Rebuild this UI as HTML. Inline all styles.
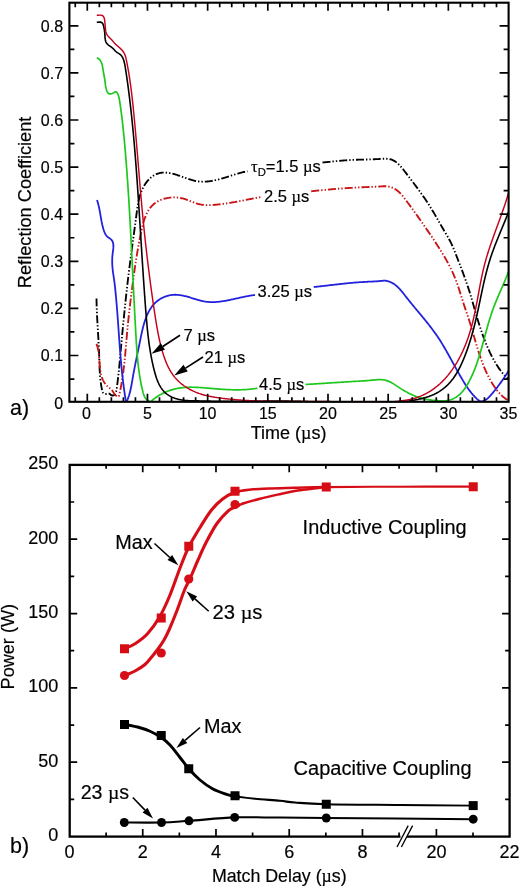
<!DOCTYPE html><html><head><meta charset="utf-8"><title>Figure</title><style>html,body{margin:0;padding:0;background:#fff}body{width:520px;height:888px;overflow:hidden}svg text{stroke:#000;stroke-width:0.18px}</style></head><body><svg width="520" height="888" viewBox="0 0 520 888" style="display:block">
<defs><filter id="bl" x="-2%" y="-2%" width="104%" height="104%"><feGaussianBlur stdDeviation="0.55"/></filter>
<clipPath id="c1"><rect x="69.4" y="2.7" width="439.8" height="399.6"/></clipPath></defs>
<rect width="520" height="888" fill="#fff"/>
<g filter="url(#bl)">
<g font-family="'Liberation Sans', Arial, sans-serif" fill="#000">
<g clip-path="url(#c1)" fill="none" stroke-linejoin="round">
<path d="M96.50 298.40L96.51 299.30L96.53 300.19L96.54 301.09L96.56 301.99L96.58 302.88L96.60 303.78L96.62 304.68L96.65 305.58L96.68 306.48L96.71 307.38L96.74 308.28L96.77 309.18L96.81 310.08L96.84 310.98L96.88 311.88L96.92 312.78L96.96 313.68L97.00 314.59L97.05 315.49L97.09 316.39L97.14 317.29L97.18 318.20L97.23 319.10L97.28 320.00L97.33 320.91L97.38 321.81L97.43 322.71L97.48 323.62L97.53 324.52L97.58 325.42L97.64 326.33L97.69 327.23L97.74 328.14L97.80 329.04L97.85 329.94L97.91 330.85L97.96 331.75L98.01 332.66L98.07 333.56L98.12 334.46L98.17 335.37L98.23 336.27L98.28 337.17L98.33 338.08L98.38 338.98L98.44 339.88L98.49 340.79L98.54 341.69L98.59 342.59L98.63 343.49L98.68 344.39L98.73 345.30L98.77 346.20L98.82 347.10L98.86 348.00L98.90 348.90L98.94 349.80L98.98 350.70L99.02 351.60L99.06 352.50L99.09 353.39L99.13 354.29L99.16 355.19L99.19 356.09L99.22 356.98L99.24 357.88L99.27 358.78L99.30 359.67L99.32 360.57L99.35 361.46L99.38 362.36L99.41 363.26L99.44 364.15L99.47 365.05L99.50 365.94L99.53 366.84L99.57 367.74L99.61 368.63L99.65 369.53L99.70 370.43L99.74 371.32L99.80 372.22L99.85 373.12L99.92 374.02L99.98 374.92L100.05 375.82L100.13 376.73L100.21 377.63L100.30 378.53L100.39 379.44L100.49 380.34L100.60 381.25L100.72 382.16L100.84 383.07L100.97 383.98L101.11 384.89L101.25 385.80L101.41 386.71L101.57 387.63L101.75 388.55L101.93 389.46L102.12 390.38L102.35 391.28L102.65 392.10L103.07 392.82L103.63 393.39L104.38 393.76L105.30 393.94L106.28 393.96L107.25 393.86L108.10 393.70L108.83 393.60L109.47 393.71L110.05 394.12L110.64 394.67L111.27 395.18L112.00 395.48L112.80 395.52L113.59 395.33L114.28 394.97L114.85 394.47L115.31 393.84L115.68 393.11L115.97 392.29L116.20 391.41L116.39 390.48L116.55 389.52L116.69 388.55L116.83 387.59L116.96 386.63L117.09 385.68L117.22 384.73L117.34 383.78L117.47 382.84L117.59 381.90L117.70 380.97L117.82 380.04L117.93 379.11L118.04 378.19L118.14 377.27L118.25 376.36L118.35 375.44L118.45 374.54L118.55 373.63L118.65 372.72L118.74 371.82L118.84 370.92L118.93 370.02L119.02 369.13L119.11 368.23L119.19 367.34L119.28 366.45L119.37 365.56L119.45 364.67L119.53 363.79L119.62 362.90L119.70 362.01L119.78 361.13L119.86 360.24L119.94 359.36L120.02 358.48L120.10 357.59L120.18 356.71L120.26 355.82L120.34 354.94L120.42 354.05L120.50 353.16L120.58 352.28L120.66 351.39L120.74 350.50L120.82 349.61L120.90 348.72L120.98 347.83L121.06 346.94L121.14 346.05L121.23 345.16L121.31 344.27L121.39 343.37L121.47 342.48L121.55 341.59L121.64 340.69L121.72 339.80L121.80 338.90L121.89 338.01L121.97 337.11L122.05 336.22L122.14 335.32L122.22 334.42L122.31 333.53L122.39 332.63L122.48 331.73L122.56 330.83L122.65 329.93L122.73 329.03L122.82 328.13L122.91 327.23L122.99 326.33L123.08 325.43L123.17 324.53L123.26 323.63L123.34 322.73L123.43 321.83L123.52 320.93L123.61 320.03L123.70 319.13L123.79 318.23L123.88 317.33L123.97 316.42L124.06 315.52L124.15 314.62L124.24 313.72L124.33 312.82L124.42 311.91L124.51 311.01L124.61 310.11L124.70 309.21L124.79 308.30L124.88 307.40L124.98 306.50L125.07 305.60L125.17 304.69L125.26 303.79L125.36 302.89L125.45 301.99L125.55 301.09L125.64 300.19L125.74 299.28L125.84 298.38L125.94 297.48L126.03 296.58L126.13 295.68L126.23 294.78L126.33 293.88L126.43 292.98L126.53 292.08L126.63 291.18L126.73 290.28L126.83 289.38L126.93 288.48L127.04 287.58L127.14 286.68L127.24 285.78L127.34 284.89L127.45 283.99L127.55 283.09L127.66 282.19L127.76 281.30L127.87 280.40L127.97 279.51L128.08 278.61L128.19 277.72L128.30 276.82L128.40 275.93L128.51 275.04L128.62 274.14L128.73 273.25L128.84 272.36L128.95 271.47L129.06 270.58L129.17 269.69L129.28 268.80L129.40 267.91L129.51 267.02L129.62 266.13L129.73 265.24L129.85 264.35L129.96 263.46L130.08 262.57L130.19 261.68L130.31 260.80L130.42 259.91L130.54 259.02L130.65 258.13L130.77 257.24L130.89 256.36L131.00 255.47L131.12 254.58L131.24 253.69L131.36 252.81L131.47 251.92L131.59 251.03L131.71 250.14L131.83 249.26L131.95 248.37L132.07 247.48L132.19 246.59L132.30 245.70L132.42 244.81L132.54 243.93L132.66 243.04L132.78 242.15L132.90 241.26L133.02 240.37L133.14 239.48L133.26 238.59L133.38 237.69L133.50 236.80L133.62 235.91L133.74 235.02L133.86 234.12L133.99 233.23L134.11 232.34L134.23 231.44L134.35 230.55L134.47 229.65L134.59 228.75L134.71 227.86L134.83 226.96L134.95 226.06L135.07 225.16L135.19 224.26L135.31 223.36L135.43 222.46L135.55 221.56L135.67 220.66L135.79 219.75L135.91 218.85L136.03 217.94L136.15 217.04L136.26 216.13L136.38 215.22L136.50 214.31L136.62 213.40L136.74 212.49L136.86 211.58L136.99 210.67L137.11 209.76L137.24 208.85L137.38 207.94L137.51 207.03L137.66 206.13L137.81 205.23L137.96 204.32L138.12 203.43L138.29 202.53L138.47 201.64L138.66 200.75L138.86 199.86L139.06 198.98L139.28 198.10L139.51 197.22L139.75 196.36L140.00 195.49L140.27 194.63L140.55 193.78L140.84 192.93L141.15 192.09L141.47 191.26L141.81 190.43L142.17 189.61L142.55 188.79L142.94 187.99L143.35 187.19L143.78 186.40L144.23 185.62L144.70 184.85L145.19 184.09L145.70 183.34L146.23 182.60L146.77 181.88L147.34 181.18L147.92 180.49L148.53 179.83L149.15 179.18L149.78 178.56L150.44 177.96L151.11 177.38L151.80 176.83L152.51 176.31L153.23 175.81L153.97 175.35L154.72 174.92L155.49 174.52L156.28 174.16L157.08 173.83L157.90 173.54L158.73 173.29L159.57 173.07L160.43 172.90L161.31 172.77L162.19 172.68L163.09 172.63L163.99 172.60L164.91 172.62L165.83 172.66L166.75 172.73L167.68 172.83L168.62 172.96L169.56 173.11L170.49 173.28L171.43 173.48L172.37 173.69L173.30 173.92L174.23 174.16L175.16 174.42L176.08 174.69L176.99 174.97L177.89 175.26L178.78 175.55L179.67 175.85L180.54 176.15L181.41 176.46L182.28 176.76L183.13 177.07L183.98 177.38L184.83 177.68L185.67 177.99L186.51 178.29L187.34 178.58L188.18 178.87L189.01 179.15L189.84 179.42L190.67 179.68L191.51 179.93L192.34 180.17L193.18 180.40L194.01 180.61L194.85 180.81L195.70 180.99L196.55 181.15L197.41 181.30L198.27 181.42L199.14 181.53L200.01 181.61L200.89 181.67L201.78 181.70L202.68 181.72L203.58 181.72L204.49 181.69L205.40 181.65L206.31 181.59L207.22 181.51L208.14 181.42L209.06 181.31L209.97 181.18L210.88 181.05L211.80 180.90L212.70 180.74L213.61 180.56L214.51 180.38L215.40 180.19L216.29 179.99L217.17 179.78L218.06 179.56L218.93 179.34L219.81 179.10L220.67 178.87L221.54 178.62L222.41 178.37L223.27 178.12L224.13 177.86L224.98 177.60L225.84 177.34L226.69 177.07L227.54 176.80L228.40 176.53L229.25 176.26L230.10 175.98L230.95 175.71L231.80 175.44L232.65 175.17L233.51 174.90L234.36 174.63L235.22 174.37L236.08 174.11L236.94 173.85L237.80 173.60L238.66 173.35L239.53 173.11L240.40 172.87L241.27 172.64L242.15 172.42L243.03 172.21L243.92 172.00L244.81 171.80L245.71 171.61L246.61 171.43L247.51 171.26" stroke="#000" stroke-width="1.85" stroke-dasharray="8 2 1.4 2 1.4 2"/>
<path d="M322.50 162.50L323.39 162.42L324.29 162.34L325.18 162.25L326.07 162.17L326.97 162.08L327.87 161.99L328.77 161.90L329.66 161.81L330.56 161.72L331.47 161.63L332.37 161.54L333.27 161.45L334.17 161.36L335.07 161.27L335.98 161.18L336.88 161.09L337.79 161.01L338.69 160.92L339.59 160.84L340.50 160.75L341.40 160.67L342.31 160.59L343.21 160.52L344.12 160.44L345.02 160.37L345.92 160.30L346.82 160.24L347.73 160.17L348.63 160.12L349.53 160.06L350.43 160.01L351.33 159.96L352.23 159.92L353.12 159.88L354.02 159.84L354.92 159.80L355.82 159.77L356.71 159.74L357.61 159.71L358.50 159.69L359.40 159.66L360.30 159.64L361.19 159.62L362.09 159.59L362.99 159.57L363.88 159.55L364.78 159.53L365.68 159.51L366.58 159.49L367.48 159.47L368.38 159.45L369.28 159.42L370.19 159.40L371.09 159.37L372.00 159.34L372.90 159.31L373.81 159.28L374.72 159.24L375.63 159.20L376.54 159.16L377.46 159.11L378.37 159.06L379.29 159.01L380.21 158.95L381.13 158.89L382.06 158.83L382.98 158.78L383.89 158.74L384.81 158.72L385.72 158.72L386.62 158.75L387.51 158.80L388.39 158.90L389.25 159.04L390.11 159.22L390.95 159.45L391.77 159.73L392.58 160.06L393.37 160.44L394.14 160.86L394.89 161.33L395.62 161.83L396.34 162.36L397.04 162.93L397.72 163.52L398.39 164.13L399.04 164.76L399.68 165.40L400.30 166.06L400.91 166.73L401.51 167.42L402.10 168.11L402.69 168.81L403.26 169.52L403.83 170.24L404.39 170.96L404.95 171.69L405.50 172.41L406.06 173.14L406.61 173.87L407.17 174.59L407.72 175.32L408.27 176.04L408.82 176.77L409.37 177.49L409.92 178.21L410.47 178.94L411.02 179.66L411.57 180.38L412.12 181.10L412.66 181.82L413.21 182.54L413.75 183.27L414.29 183.99L414.83 184.71L415.37 185.43L415.91 186.16L416.45 186.88L416.99 187.60L417.52 188.33L418.05 189.05L418.59 189.78L419.11 190.51L419.64 191.23L420.17 191.96L420.69 192.69L421.21 193.42L421.73 194.16L422.25 194.89L422.77 195.62L423.28 196.36L423.80 197.10L424.30 197.84L424.81 198.58L425.32 199.32L425.82 200.07L426.32 200.82L426.82 201.56L427.31 202.32L427.80 203.07L428.29 203.82L428.78 204.58L429.26 205.34L429.75 206.11L430.22 206.87L430.70 207.64L431.17 208.41L431.64 209.18L432.11 209.95L432.58 210.73L433.04 211.51L433.51 212.28L433.97 213.06L434.43 213.85L434.89 214.63L435.34 215.41L435.80 216.20L436.25 216.98L436.71 217.77L437.16 218.55L437.61 219.34L438.06 220.13L438.51 220.92L438.96 221.70L439.41 222.49L439.86 223.28L440.31 224.07L440.76 224.85L441.21 225.64L441.67 226.43L442.12 227.21L442.57 228.00L443.02 228.78L443.48 229.56L443.93 230.35L444.39 231.13L444.85 231.90L445.31 232.68L445.77 233.46L446.23 234.23L446.69 235.01L447.14 235.79L447.60 236.56L448.05 237.34L448.49 238.13L448.93 238.91L449.36 239.70L449.79 240.49L450.20 241.29L450.61 242.09L451.01 242.90L451.40 243.71L451.78 244.53L452.16 245.35L452.53 246.17L452.89 247.00L453.24 247.83L453.60 248.66L453.94 249.50L454.29 250.33L454.63 251.17L454.96 252.01L455.30 252.86L455.63 253.70L455.96 254.54L456.28 255.39L456.61 256.23L456.94 257.08L457.27 257.92L457.59 258.77L457.92 259.61L458.25 260.46L458.58 261.30L458.90 262.15L459.23 262.99L459.55 263.83L459.88 264.68L460.20 265.52L460.52 266.37L460.85 267.21L461.17 268.06L461.49 268.90L461.81 269.75L462.13 270.59L462.45 271.44L462.76 272.28L463.08 273.13L463.39 273.98L463.70 274.83L464.02 275.67L464.33 276.52L464.63 277.37L464.94 278.22L465.25 279.07L465.55 279.92L465.85 280.77L466.15 281.62L466.45 282.47L466.74 283.33L467.04 284.18L467.33 285.03L467.62 285.89L467.90 286.75L468.19 287.60L468.47 288.46L468.75 289.32L469.03 290.18L469.30 291.04L469.58 291.90L469.85 292.76L470.11 293.62L470.38 294.49L470.64 295.35L470.90 296.22L471.15 297.09L471.41 297.95L471.66 298.82L471.91 299.69L472.16 300.56L472.41 301.43L472.66 302.30L472.91 303.17L473.16 304.04L473.41 304.91L473.65 305.78L473.90 306.65L474.15 307.52L474.40 308.39L474.65 309.26L474.90 310.12L475.15 310.99L475.40 311.86L475.65 312.73L475.90 313.60L476.16 314.46L476.41 315.33L476.67 316.20L476.93 317.06L477.18 317.93L477.44 318.80L477.70 319.66L477.97 320.52L478.23 321.39L478.50 322.25L478.77 323.11L479.04 323.97L479.31 324.83L479.58 325.69L479.86 326.55L480.14 327.41L480.42 328.27L480.70 329.12L480.99 329.98L481.27 330.83L481.57 331.69L481.86 332.54L482.16 333.39L482.46 334.24L482.76 335.09L483.06 335.94L483.37 336.79L483.69 337.63L484.00 338.48L484.32 339.32L484.65 340.16L484.97 341.00L485.30 341.84L485.64 342.68L485.98 343.52L486.32 344.35L486.66 345.19L487.02 346.02L487.37 346.85L487.73 347.68L488.09 348.51L488.46 349.33L488.84 350.16L489.21 350.98L489.60 351.80L489.98 352.62L490.38 353.43L490.77 354.25L491.18 355.06L491.58 355.87L492.00 356.68L492.42 357.49L492.84 358.29L493.27 359.09L493.71 359.89L494.16 360.68L494.61 361.47L495.06 362.25L495.52 363.03L495.99 363.81L496.47 364.58L496.95 365.35L497.45 366.11L497.94 366.86L498.45 367.61L498.96 368.36L499.48 369.09L500.01 369.83L500.55 370.55L501.09 371.27L501.65 371.98L502.21 372.68L502.78 373.38L503.36 374.06L503.95 374.74L504.55 375.42L505.15 376.08L505.77 376.73L506.39 377.38L507.03 378.01L507.67 378.64L508.33 379.26" stroke="#000" stroke-width="1.85" stroke-dasharray="8 2 1.4 2 1.4 2"/>
<path d="M96.46 343.84L96.76 344.61L97.03 345.40L97.28 346.21L97.52 347.03L97.73 347.87L97.92 348.72L98.10 349.58L98.26 350.45L98.41 351.34L98.55 352.23L98.67 353.14L98.78 354.05L98.89 354.97L98.98 355.90L99.07 356.83L99.16 357.76L99.23 358.71L99.31 359.65L99.39 360.60L99.46 361.55L99.54 362.50L99.61 363.45L99.69 364.39L99.78 365.34L99.87 366.28L99.97 367.22L100.07 368.16L100.19 369.09L100.32 370.02L100.46 370.93L100.61 371.85L100.78 372.75L100.96 373.64L101.16 374.52L101.38 375.39L101.62 376.25L101.87 377.10L102.16 377.93L102.46 378.75L102.79 379.55L103.15 380.34L103.53 381.11L103.94 381.86L104.38 382.60L104.85 383.31L105.35 384.00L105.89 384.68L106.46 385.33L107.07 385.95L107.72 386.56L108.40 387.14L109.12 387.70L109.84 388.25L110.55 388.82L111.22 389.42L111.83 390.06L112.37 390.75L112.86 391.48L113.34 392.25L113.84 393.03L114.38 393.81L114.99 394.59L115.72 395.34L116.53 396.02L117.33 396.50L118.04 396.68L118.57 396.46L118.94 395.89L119.20 395.10L119.41 394.21L119.61 393.30L119.80 392.40L120.00 391.50L120.18 390.60L120.37 389.70L120.55 388.80L120.72 387.90L120.90 387.00L121.06 386.11L121.23 385.21L121.39 384.31L121.55 383.41L121.70 382.52L121.85 381.62L122.00 380.72L122.15 379.82L122.29 378.93L122.42 378.03L122.56 377.14L122.69 376.24L122.82 375.35L122.95 374.45L123.07 373.55L123.19 372.66L123.31 371.76L123.43 370.87L123.54 369.98L123.65 369.08L123.76 368.19L123.87 367.29L123.97 366.40L124.08 365.50L124.18 364.61L124.28 363.72L124.37 362.82L124.47 361.93L124.56 361.03L124.66 360.14L124.75 359.24L124.84 358.35L124.92 357.46L125.01 356.56L125.10 355.67L125.18 354.77L125.26 353.88L125.35 352.98L125.43 352.09L125.51 351.19L125.59 350.30L125.67 349.40L125.75 348.51L125.82 347.61L125.90 346.72L125.98 345.82L126.06 344.92L126.13 344.03L126.21 343.13L126.29 342.23L126.36 341.34L126.44 340.44L126.52 339.54L126.59 338.64L126.67 337.74L126.75 336.85L126.83 335.95L126.90 335.05L126.98 334.15L127.06 333.25L127.14 332.35L127.22 331.45L127.31 330.54L127.39 329.64L127.47 328.74L127.56 327.84L127.65 326.93L127.73 326.03L127.82 325.13L127.91 324.22L128.00 323.32L128.09 322.41L128.19 321.51L128.28 320.60L128.37 319.70L128.47 318.79L128.57 317.89L128.66 316.98L128.76 316.08L128.86 315.17L128.96 314.26L129.06 313.36L129.16 312.45L129.26 311.55L129.37 310.64L129.47 309.74L129.57 308.83L129.68 307.93L129.78 307.02L129.89 306.12L130.00 305.22L130.10 304.31L130.21 303.41L130.32 302.51L130.43 301.61L130.54 300.70L130.65 299.80L130.76 298.90L130.87 298.00L130.98 297.10L131.10 296.20L131.21 295.31L131.32 294.41L131.44 293.51L131.55 292.62L131.66 291.72L131.78 290.83L131.89 289.93L132.01 289.04L132.12 288.15L132.24 287.26L132.35 286.37L132.47 285.48L132.59 284.59L132.70 283.71L132.82 282.82L132.94 281.94L133.06 281.05L133.17 280.17L133.29 279.29L133.41 278.41L133.53 277.52L133.65 276.64L133.77 275.76L133.89 274.89L134.01 274.01L134.13 273.13L134.26 272.25L134.38 271.37L134.50 270.49L134.63 269.62L134.75 268.74L134.88 267.86L135.01 266.98L135.14 266.10L135.27 265.23L135.40 264.35L135.53 263.47L135.66 262.59L135.80 261.71L135.93 260.83L136.07 259.95L136.21 259.07L136.35 258.19L136.49 257.31L136.63 256.42L136.77 255.54L136.92 254.66L137.06 253.77L137.21 252.88L137.36 252.00L137.51 251.11L137.67 250.22L137.82 249.33L137.98 248.44L138.14 247.54L138.30 246.65L138.46 245.75L138.62 244.85L138.79 243.95L138.95 243.05L139.12 242.15L139.30 241.25L139.47 240.34L139.65 239.43L139.82 238.53L140.00 237.61L140.19 236.70L140.37 235.78L140.56 234.87L140.75 233.95L140.94 233.03L141.13 232.10L141.33 231.18L141.53 230.25L141.74 229.32L141.95 228.39L142.16 227.47L142.38 226.54L142.61 225.62L142.84 224.70L143.08 223.78L143.33 222.87L143.59 221.97L143.86 221.07L144.14 220.18L144.43 219.29L144.73 218.42L145.04 217.55L145.37 216.70L145.71 215.85L146.06 215.02L146.43 214.19L146.81 213.38L147.21 212.59L147.62 211.81L148.06 211.04L148.51 210.29L148.98 209.56L149.46 208.84L149.97 208.14L150.50 207.47L151.05 206.81L151.62 206.17L152.21 205.55L152.83 204.95L153.47 204.38L154.13 203.83L154.81 203.30L155.51 202.79L156.23 202.31L156.97 201.85L157.73 201.41L158.50 201.00L159.30 200.60L160.10 200.23L160.92 199.89L161.75 199.56L162.60 199.26L163.46 198.98L164.32 198.72L165.20 198.49L166.09 198.28L166.98 198.09L167.88 197.93L168.79 197.79L169.70 197.67L170.62 197.57L171.54 197.50L172.46 197.45L173.38 197.42L174.31 197.42L175.23 197.44L176.16 197.48L177.08 197.55L177.99 197.64L178.91 197.75L179.82 197.88L180.72 198.04L181.62 198.23L182.51 198.43L183.40 198.66L184.27 198.91L185.14 199.18L186.00 199.46L186.86 199.76L187.71 200.07L188.56 200.39L189.40 200.71L190.24 201.04L191.08 201.38L191.92 201.71L192.76 202.03L193.60 202.35L194.45 202.67L195.29 202.97L196.14 203.26L196.99 203.53L197.84 203.79L198.70 204.03L199.57 204.24L200.44 204.43L201.32 204.59L202.21 204.73L203.10 204.84L204.00 204.94L204.90 205.01L205.80 205.06L206.71 205.10L207.62 205.12L208.54 205.12L209.45 205.11L210.37 205.08L211.29 205.04L212.21 204.99L213.13 204.93L214.04 204.86L214.96 204.79L215.87 204.71L216.79 204.62L217.70 204.53L218.60 204.43L219.51 204.33L220.41 204.22L221.31 204.11L222.21 204.00L223.11 203.88L224.00 203.76L224.90 203.63L225.79 203.50L226.68 203.37L227.57 203.23L228.46 203.09L229.35 202.95L230.23 202.80L231.12 202.66L232.00 202.51L232.88 202.35L233.77 202.20L234.65 202.04L235.53 201.88L236.41 201.72L237.29 201.55L238.17 201.39L239.05 201.22L239.93 201.05L240.81 200.89L241.69 200.72L242.57 200.54L243.45 200.37L244.33 200.20L245.21 200.03L246.09 199.85L246.98 199.68L247.86 199.51L248.74 199.33L249.63 199.16L250.51 198.99L251.40 198.81L252.29 198.64L253.18 198.47L254.07 198.30L254.96 198.13L255.85 197.96L256.75 197.80L257.65 197.63L258.55 197.47L259.45 197.31L260.35 197.15L261.26 196.99" stroke="#c81414" stroke-width="1.85" stroke-dasharray="8 2 1.4 2 1.4 2"/>
<path d="M311.25 191.26L312.15 191.17L313.05 191.07L313.94 190.97L314.84 190.88L315.74 190.78L316.63 190.69L317.53 190.59L318.43 190.50L319.33 190.41L320.23 190.32L321.13 190.23L322.03 190.14L322.92 190.06L323.82 189.97L324.72 189.89L325.62 189.80L326.52 189.72L327.42 189.64L328.33 189.56L329.23 189.48L330.13 189.40L331.03 189.32L331.93 189.24L332.83 189.17L333.73 189.09L334.63 189.02L335.54 188.95L336.44 188.87L337.34 188.80L338.24 188.73L339.14 188.66L340.04 188.60L340.95 188.53L341.85 188.46L342.75 188.40L343.65 188.34L344.55 188.27L345.46 188.21L346.36 188.15L347.26 188.09L348.16 188.03L349.06 187.98L349.97 187.92L350.87 187.87L351.77 187.81L352.67 187.76L353.57 187.71L354.47 187.66L355.38 187.61L356.28 187.56L357.18 187.51L358.08 187.47L358.98 187.42L359.88 187.38L360.78 187.34L361.68 187.29L362.58 187.25L363.48 187.21L364.38 187.18L365.28 187.14L366.18 187.10L367.07 187.07L367.97 187.04L368.87 187.00L369.77 186.97L370.67 186.93L371.57 186.90L372.47 186.86L373.37 186.83L374.27 186.79L375.17 186.74L376.08 186.70L376.98 186.65L377.89 186.60L378.79 186.55L379.70 186.49L380.61 186.43L381.53 186.37L382.44 186.31L383.35 186.27L384.27 186.25L385.18 186.25L386.09 186.29L387.00 186.36L387.91 186.47L388.80 186.62L389.69 186.81L390.56 187.04L391.42 187.31L392.26 187.61L393.07 187.96L393.86 188.34L394.63 188.76L395.38 189.21L396.11 189.69L396.83 190.21L397.52 190.75L398.20 191.32L398.86 191.91L399.51 192.52L400.14 193.16L400.76 193.81L401.37 194.48L401.97 195.17L402.56 195.87L403.14 196.58L403.72 197.30L404.28 198.02L404.85 198.75L405.41 199.49L405.96 200.23L406.51 200.97L407.06 201.70L407.61 202.44L408.16 203.18L408.70 203.91L409.25 204.65L409.79 205.38L410.33 206.12L410.86 206.85L411.40 207.59L411.93 208.32L412.47 209.05L413.00 209.79L413.53 210.52L414.05 211.25L414.58 211.99L415.11 212.72L415.63 213.45L416.15 214.19L416.68 214.92L417.20 215.65L417.72 216.39L418.23 217.12L418.75 217.86L419.27 218.59L419.78 219.32L420.30 220.06L420.81 220.79L421.32 221.53L421.84 222.26L422.35 223.00L422.86 223.74L423.37 224.47L423.88 225.21L424.39 225.95L424.89 226.69L425.40 227.42L425.91 228.16L426.42 228.90L426.92 229.64L427.43 230.39L427.94 231.13L428.44 231.87L428.95 232.61L429.45 233.36L429.96 234.10L430.47 234.85L430.97 235.60L431.48 236.35L431.98 237.09L432.48 237.84L432.99 238.60L433.49 239.35L433.99 240.10L434.49 240.85L434.99 241.61L435.49 242.37L435.99 243.12L436.48 243.88L436.98 244.64L437.47 245.40L437.96 246.17L438.45 246.93L438.93 247.69L439.42 248.46L439.90 249.23L440.38 250.00L440.86 250.77L441.34 251.54L441.81 252.31L442.28 253.09L442.75 253.86L443.21 254.64L443.68 255.42L444.13 256.20L444.59 256.99L445.04 257.77L445.49 258.56L445.94 259.35L446.38 260.14L446.82 260.93L447.26 261.72L447.69 262.52L448.11 263.31L448.54 264.11L448.96 264.91L449.37 265.71L449.78 266.52L450.19 267.33L450.59 268.13L450.99 268.95L451.38 269.76L451.77 270.57L452.15 271.39L452.53 272.21L452.90 273.03L453.27 273.85L453.63 274.68L453.99 275.51L454.34 276.34L454.68 277.17L455.02 278.00L455.36 278.84L455.69 279.68L456.01 280.52L456.32 281.37L456.64 282.21L456.94 283.06L457.24 283.91L457.54 284.76L457.84 285.62L458.13 286.47L458.41 287.33L458.70 288.18L458.98 289.04L459.26 289.90L459.53 290.76L459.81 291.62L460.08 292.49L460.35 293.35L460.62 294.21L460.89 295.07L461.16 295.94L461.43 296.80L461.70 297.66L461.97 298.52L462.24 299.39L462.51 300.25L462.79 301.11L463.06 301.97L463.34 302.83L463.62 303.69L463.90 304.55L464.18 305.40L464.47 306.26L464.76 307.12L465.04 307.97L465.33 308.83L465.62 309.68L465.91 310.53L466.20 311.39L466.49 312.24L466.78 313.10L467.07 313.95L467.36 314.81L467.65 315.66L467.94 316.52L468.22 317.38L468.50 318.23L468.78 319.09L469.06 319.95L469.33 320.81L469.61 321.67L469.88 322.53L470.15 323.40L470.41 324.26L470.68 325.13L470.94 325.99L471.20 326.86L471.46 327.73L471.72 328.59L471.97 329.46L472.23 330.33L472.48 331.20L472.73 332.07L472.99 332.94L473.24 333.81L473.49 334.68L473.74 335.55L474.00 336.42L474.25 337.29L474.50 338.16L474.75 339.03L475.00 339.90L475.26 340.77L475.51 341.64L475.77 342.50L476.02 343.37L476.28 344.24L476.54 345.11L476.80 345.97L477.06 346.84L477.32 347.71L477.59 348.57L477.86 349.43L478.12 350.30L478.40 351.16L478.67 352.02L478.95 352.88L479.23 353.74L479.51 354.60L479.79 355.45L480.08 356.31L480.37 357.16L480.67 358.01L480.97 358.86L481.27 359.71L481.58 360.56L481.89 361.41L482.20 362.25L482.52 363.09L482.84 363.93L483.17 364.77L483.50 365.61L483.84 366.44L484.18 367.28L484.53 368.11L484.88 368.94L485.24 369.76L485.60 370.59L485.97 371.41L486.35 372.23L486.73 373.04L487.12 373.86L487.51 374.67L487.91 375.48L488.32 376.29L488.73 377.09L489.15 377.89L489.58 378.69L490.01 379.48L490.45 380.28L490.90 381.07L491.36 381.85L491.82 382.63L492.29 383.41L492.77 384.18L493.26 384.95L493.76 385.71L494.26 386.47L494.78 387.22L495.30 387.96L495.83 388.69L496.37 389.42L496.92 390.14L497.49 390.85L498.06 391.54L498.64 392.23L499.23 392.91L499.83 393.58L500.45 394.24L501.07 394.88L501.70 395.51L502.35 396.13L503.02 396.73L503.70 397.31L504.40 397.87L505.13 398.39L505.89 398.88L506.68 399.34L507.51 399.75L508.38 400.12" stroke="#c81414" stroke-width="1.85" stroke-dasharray="8 2 1.4 2 1.4 2"/>
<path d="M97.00 200.00L97.29 200.87L97.57 201.75L97.83 202.62L98.08 203.50L98.31 204.38L98.53 205.26L98.74 206.13L98.94 207.01L99.13 207.89L99.31 208.77L99.48 209.66L99.65 210.54L99.81 211.42L99.97 212.30L100.12 213.19L100.28 214.07L100.43 214.95L100.58 215.84L100.73 216.72L100.88 217.61L101.03 218.49L101.19 219.38L101.35 220.27L101.52 221.15L101.69 222.04L101.88 222.92L102.07 223.81L102.26 224.70L102.47 225.58L102.70 226.47L102.93 227.35L103.18 228.24L103.44 229.13L103.71 230.01L104.01 230.90L104.32 231.77L104.67 232.63L105.05 233.47L105.48 234.28L105.95 235.05L106.48 235.77L107.07 236.44L107.73 237.04L108.45 237.59L109.21 238.10L109.96 238.61L110.67 239.12L111.31 239.68L111.84 240.30L112.29 240.98L112.65 241.70L112.93 242.48L113.13 243.30L113.27 244.16L113.36 245.06L113.39 245.98L113.37 246.94L113.32 247.91L113.24 248.91L113.13 249.92L113.01 250.93L112.88 251.95L112.75 252.98L112.62 254.00L112.51 255.01L112.41 256.01L112.33 256.99L112.27 257.97L112.23 258.94L112.20 259.89L112.19 260.84L112.19 261.77L112.20 262.70L112.23 263.62L112.27 264.53L112.32 265.44L112.38 266.34L112.45 267.23L112.54 268.12L112.62 269.01L112.72 269.89L112.82 270.76L112.93 271.64L113.05 272.51L113.16 273.38L113.29 274.24L113.41 275.11L113.54 275.98L113.67 276.84L113.80 277.71L113.92 278.58L114.05 279.45L114.18 280.33L114.30 281.20L114.42 282.08L114.54 282.97L114.65 283.86L114.76 284.75L114.86 285.64L114.96 286.54L115.06 287.44L115.16 288.34L115.25 289.24L115.34 290.15L115.43 291.05L115.52 291.95L115.61 292.86L115.70 293.76L115.79 294.66L115.87 295.56L115.96 296.47L116.04 297.37L116.12 298.27L116.20 299.18L116.28 300.08L116.36 300.98L116.44 301.88L116.52 302.79L116.59 303.69L116.67 304.59L116.74 305.49L116.82 306.40L116.89 307.30L116.96 308.20L117.04 309.10L117.11 310.01L117.18 310.91L117.25 311.81L117.32 312.71L117.39 313.62L117.46 314.52L117.52 315.42L117.59 316.32L117.66 317.22L117.72 318.13L117.79 319.03L117.86 319.93L117.92 320.83L117.99 321.73L118.05 322.64L118.11 323.54L118.18 324.44L118.24 325.34L118.31 326.24L118.37 327.14L118.43 328.05L118.50 328.95L118.56 329.85L118.63 330.75L118.69 331.65L118.75 332.55L118.82 333.45L118.88 334.35L118.94 335.26L119.01 336.16L119.07 337.06L119.14 337.96L119.20 338.86L119.27 339.76L119.33 340.66L119.40 341.56L119.46 342.46L119.53 343.36L119.59 344.26L119.66 345.16L119.73 346.06L119.80 346.96L119.86 347.86L119.93 348.76L120.00 349.66L120.07 350.56L120.14 351.46L120.22 352.36L120.29 353.26L120.36 354.16L120.43 355.06L120.51 355.96L120.58 356.86L120.66 357.76L120.74 358.66L120.81 359.56L120.89 360.46L120.97 361.35L121.05 362.25L121.13 363.15L121.21 364.05L121.30 364.95L121.38 365.85L121.47 366.75L121.55 367.64L121.64 368.54L121.73 369.44L121.82 370.34L121.91 371.23L122.01 372.13L122.10 373.03L122.19 373.93L122.29 374.82L122.39 375.72L122.49 376.62L122.59 377.52L122.69 378.41L122.80 379.31L122.90 380.21L123.01 381.10L123.12 382.00L123.23 382.90L123.34 383.79L123.45 384.69L123.57 385.58L123.68 386.48L123.80 387.37L123.92 388.27L124.04 389.17L124.17 390.06L124.29 390.96L124.42 391.85L124.55 392.75L124.68 393.64L124.82 394.53L124.95 395.43L125.09 396.32L125.23 397.22L125.37 398.11L125.51 399.01L125.66 399.90L125.81 400.79L125.96 401.69" stroke="#2424dc" stroke-width="1.8"/>
<path d="M126.54 401.70L126.92 400.91L127.29 400.12L127.63 399.31L127.96 398.49L128.28 397.65L128.58 396.81L128.87 395.96L129.14 395.10L129.40 394.24L129.65 393.36L129.88 392.48L130.11 391.59L130.32 390.70L130.53 389.80L130.73 388.90L130.92 387.99L131.10 387.09L131.28 386.18L131.45 385.26L131.61 384.35L131.78 383.44L131.94 382.52L132.09 381.61L132.25 380.70L132.40 379.79L132.56 378.88L132.71 377.98L132.87 377.08L133.02 376.19L133.18 375.30L133.34 374.41L133.50 373.53L133.66 372.65L133.83 371.77L133.99 370.90L134.16 370.02L134.32 369.15L134.49 368.29L134.66 367.42L134.82 366.56L134.99 365.69L135.16 364.83L135.34 363.97L135.51 363.11L135.68 362.25L135.85 361.39L136.03 360.53L136.20 359.67L136.38 358.81L136.56 357.95L136.73 357.09L136.91 356.23L137.09 355.37L137.27 354.50L137.45 353.64L137.63 352.77L137.81 351.90L137.99 351.03L138.17 350.15L138.35 349.28L138.53 348.40L138.72 347.51L138.90 346.63L139.08 345.74L139.27 344.84L139.45 343.94L139.63 343.04L139.82 342.14L140.00 341.22L140.18 340.31L140.37 339.39L140.56 338.47L140.75 337.54L140.94 336.61L141.13 335.69L141.32 334.76L141.52 333.82L141.73 332.89L141.93 331.96L142.14 331.03L142.36 330.10L142.58 329.18L142.81 328.25L143.04 327.33L143.28 326.41L143.53 325.49L143.78 324.58L144.04 323.67L144.31 322.77L144.59 321.87L144.87 320.98L145.17 320.10L145.47 319.22L145.79 318.35L146.11 317.49L146.45 316.63L146.79 315.79L147.15 314.95L147.52 314.13L147.90 313.31L148.29 312.51L148.70 311.71L149.12 310.93L149.56 310.16L150.01 309.41L150.47 308.66L150.95 307.93L151.44 307.22L151.95 306.52L152.47 305.83L153.01 305.16L153.57 304.51L154.15 303.87L154.74 303.25L155.35 302.65L155.98 302.07L156.63 301.50L157.30 300.95L157.99 300.43L158.69 299.92L159.42 299.43L160.17 298.97L160.93 298.52L161.71 298.10L162.51 297.70L163.32 297.32L164.15 296.97L164.99 296.64L165.84 296.34L166.70 296.06L167.57 295.81L168.45 295.58L169.33 295.38L170.23 295.21L171.13 295.06L172.03 294.95L172.93 294.86L173.84 294.80L174.75 294.77L175.66 294.77L176.57 294.80L177.48 294.85L178.38 294.93L179.29 295.03L180.20 295.15L181.10 295.29L182.00 295.44L182.90 295.62L183.80 295.81L184.69 296.02L185.58 296.24L186.47 296.47L187.36 296.71L188.24 296.96L189.13 297.22L190.01 297.48L190.89 297.75L191.76 298.02L192.64 298.29L193.52 298.57L194.39 298.84L195.27 299.11L196.14 299.38L197.02 299.64L197.90 299.89L198.77 300.14L199.65 300.38L200.52 300.60L201.40 300.82L202.28 301.02L203.16 301.21L204.04 301.37L204.93 301.53L205.81 301.66L206.70 301.77L207.59 301.87L208.48 301.95L209.37 302.01L210.27 302.05L211.16 302.08L212.06 302.09L212.96 302.08L213.86 302.07L214.76 302.03L215.66 301.99L216.56 301.93L217.47 301.86L218.37 301.78L219.28 301.68L220.18 301.58L221.09 301.46L221.99 301.34L222.90 301.21L223.81 301.06L224.71 300.91L225.62 300.76L226.53 300.59L227.43 300.42L228.34 300.25L229.25 300.06L230.15 299.88L231.06 299.69L231.96 299.49L232.87 299.30L233.77 299.10L234.67 298.90L235.57 298.69L236.47 298.49L237.37 298.29L238.27 298.08L239.17 297.88L240.06 297.68L240.96 297.48L241.85 297.28L242.74 297.09L243.63 296.90L244.52 296.71L245.40 296.53L246.29 296.35L247.17 296.18L248.05 296.02L248.93 295.86L249.80 295.71L250.68 295.57L251.55 295.43L252.41 295.31L253.28 295.19L254.14 295.09L255.00 294.99" stroke="#2424dc" stroke-width="1.8"/>
<path d="M313.75 287.00L314.65 286.91L315.55 286.82L316.44 286.73L317.34 286.64L318.24 286.54L319.14 286.44L320.03 286.35L320.93 286.25L321.83 286.15L322.73 286.05L323.62 285.95L324.52 285.84L325.42 285.74L326.32 285.64L327.21 285.54L328.11 285.43L329.01 285.33L329.90 285.22L330.80 285.12L331.70 285.01L332.60 284.91L333.49 284.81L334.39 284.70L335.29 284.60L336.19 284.49L337.08 284.39L337.98 284.29L338.88 284.19L339.78 284.09L340.68 283.99L341.57 283.89L342.47 283.79L343.37 283.69L344.27 283.60L345.17 283.50L346.06 283.41L346.96 283.31L347.86 283.22L348.76 283.13L349.66 283.05L350.56 282.96L351.46 282.88L352.36 282.80L353.25 282.71L354.15 282.64L355.05 282.56L355.95 282.49L356.85 282.41L357.75 282.35L358.65 282.28L359.55 282.21L360.45 282.15L361.35 282.09L362.25 282.04L363.15 281.98L364.05 281.93L364.95 281.89L365.86 281.84L366.76 281.80L367.66 281.76L368.56 281.72L369.46 281.68L370.36 281.64L371.26 281.60L372.17 281.56L373.07 281.52L373.97 281.47L374.87 281.42L375.78 281.36L376.68 281.30L377.58 281.23L378.48 281.15L379.39 281.07L380.29 280.98L381.19 280.88L382.09 280.80L383.00 280.73L383.90 280.69L384.80 280.69L385.71 280.76L386.61 280.88L387.51 281.07L388.40 281.32L389.28 281.62L390.14 281.96L390.97 282.32L391.78 282.72L392.56 283.15L393.33 283.61L394.07 284.09L394.79 284.60L395.50 285.13L396.19 285.68L396.86 286.26L397.51 286.85L398.15 287.46L398.78 288.09L399.40 288.74L400.01 289.39L400.60 290.07L401.19 290.75L401.77 291.44L402.35 292.14L402.92 292.84L403.48 293.56L404.04 294.27L404.60 294.99L405.16 295.71L405.72 296.43L406.28 297.15L406.85 297.87L407.41 298.59L407.98 299.30L408.54 300.01L409.11 300.72L409.69 301.43L410.26 302.14L410.83 302.84L411.41 303.55L411.98 304.25L412.56 304.95L413.14 305.65L413.72 306.35L414.30 307.05L414.87 307.75L415.45 308.45L416.03 309.14L416.61 309.84L417.19 310.53L417.77 311.23L418.35 311.92L418.93 312.62L419.51 313.31L420.09 314.01L420.67 314.70L421.25 315.40L421.82 316.09L422.40 316.79L422.97 317.49L423.55 318.18L424.12 318.88L424.69 319.58L425.26 320.28L425.83 320.98L426.39 321.68L426.95 322.38L427.52 323.08L428.08 323.79L428.63 324.50L429.19 325.20L429.74 325.91L430.29 326.62L430.84 327.34L431.38 328.05L431.92 328.77L432.46 329.49L433.00 330.21L433.53 330.93L434.06 331.66L434.59 332.39L435.11 333.12L435.63 333.85L436.14 334.59L436.65 335.32L437.16 336.07L437.66 336.81L438.16 337.56L438.66 338.31L439.15 339.06L439.64 339.82L440.12 340.58L440.60 341.34L441.08 342.10L441.56 342.87L442.03 343.63L442.50 344.40L442.96 345.18L443.43 345.95L443.89 346.72L444.35 347.50L444.80 348.28L445.26 349.06L445.71 349.84L446.16 350.63L446.61 351.41L447.06 352.20L447.50 352.99L447.94 353.78L448.39 354.57L448.83 355.36L449.27 356.15L449.71 356.94L450.14 357.73L450.58 358.53L451.02 359.32L451.45 360.11L451.89 360.91L452.33 361.70L452.76 362.50L453.20 363.30L453.63 364.09L454.07 364.89L454.50 365.68L454.94 366.48L455.38 367.27L455.81 368.06L456.25 368.86L456.69 369.65L457.13 370.44L457.57 371.23L458.01 372.02L458.46 372.81L458.90 373.60L459.35 374.39L459.80 375.18L460.25 375.96L460.70 376.75L461.16 377.53L461.61 378.31L462.07 379.09L462.53 379.87L463.00 380.64L463.46 381.41L463.93 382.18L464.41 382.95L464.89 383.72L465.37 384.48L465.86 385.24L466.35 385.99L466.85 386.74L467.35 387.49L467.87 388.23L468.38 388.96L468.91 389.69L469.44 390.42L469.99 391.14L470.54 391.85L471.10 392.55L471.66 393.25L472.24 393.94L472.83 394.63L473.43 395.30L474.04 395.97L474.66 396.63L475.29 397.28L475.94 397.93L476.59 398.56L477.26 399.18L477.95 399.79L478.65 400.35L479.39 400.81L480.16 401.16L480.98 401.33L481.85 401.33L482.74 401.16L483.64 400.86L484.52 400.46L485.37 400.00L486.16 399.49L486.91 398.93L487.63 398.35L488.31 397.73L488.96 397.10L489.59 396.44L490.21 395.77L490.82 395.10L491.42 394.42L492.02 393.74L492.61 393.05L493.19 392.36L493.77 391.67L494.35 390.97L494.92 390.27L495.48 389.57L496.04 388.86L496.59 388.15L497.14 387.44L497.69 386.73L498.23 386.01L498.77 385.29L499.30 384.56L499.83 383.83L500.36 383.10L500.88 382.37L501.40 381.63L501.91 380.90L502.43 380.16L502.94 379.41L503.44 378.67L503.95 377.92L504.45 377.17L504.95 376.42L505.45 375.66L505.94 374.90L506.44 374.15L506.93 373.39L507.42 372.62L507.91 371.86L508.40 371.09" stroke="#2424dc" stroke-width="1.8"/>
<path d="M96.80 57.70L97.72 58.17L98.54 58.71L99.25 59.30L99.87 59.95L100.41 60.64L100.88 61.38L101.27 62.15L101.61 62.96L101.89 63.80L102.13 64.67L102.34 65.55L102.52 66.45L102.68 67.36L102.82 68.27L102.97 69.19L103.11 70.10L103.27 71.01L103.43 71.92L103.59 72.82L103.75 73.71L103.91 74.60L104.07 75.49L104.23 76.38L104.38 77.26L104.53 78.15L104.67 79.02L104.80 79.90L104.92 80.78L105.04 81.65L105.15 82.53L105.25 83.40L105.37 84.28L105.49 85.16L105.63 86.04L105.78 86.93L105.97 87.83L106.18 88.74L106.43 89.65L106.72 90.58L107.06 91.50L107.47 92.35L107.99 93.08L108.65 93.59L109.46 93.86L110.37 93.90L111.31 93.76L112.23 93.49L113.11 93.11L113.97 92.63L114.81 92.13L115.60 91.83L116.29 91.89L116.88 92.37L117.39 93.13L117.82 94.04L118.19 94.97L118.50 95.88L118.77 96.79L119.00 97.69L119.20 98.58L119.37 99.47L119.53 100.35L119.67 101.24L119.80 102.12L119.94 103.00L120.07 103.89L120.20 104.78L120.33 105.66L120.46 106.55L120.58 107.44L120.71 108.33L120.83 109.21L120.95 110.10L121.07 110.99L121.19 111.89L121.30 112.78L121.42 113.67L121.53 114.56L121.65 115.46L121.76 116.35L121.87 117.24L121.98 118.14L122.08 119.03L122.19 119.93L122.30 120.83L122.40 121.72L122.50 122.62L122.60 123.52L122.70 124.41L122.80 125.31L122.90 126.21L123.00 127.11L123.09 128.01L123.19 128.91L123.28 129.81L123.38 130.71L123.47 131.61L123.56 132.51L123.65 133.41L123.74 134.31L123.83 135.21L123.92 136.11L124.00 137.02L124.09 137.92L124.17 138.82L124.26 139.72L124.34 140.63L124.43 141.53L124.51 142.43L124.59 143.33L124.67 144.24L124.75 145.14L124.83 146.04L124.91 146.94L124.99 147.85L125.07 148.75L125.14 149.65L125.22 150.56L125.30 151.46L125.37 152.36L125.45 153.27L125.53 154.17L125.60 155.07L125.68 155.97L125.75 156.88L125.82 157.78L125.90 158.68L125.97 159.59L126.04 160.49L126.11 161.39L126.18 162.29L126.25 163.20L126.32 164.10L126.39 165.00L126.46 165.90L126.53 166.81L126.60 167.71L126.67 168.61L126.74 169.51L126.81 170.42L126.87 171.32L126.94 172.22L127.01 173.12L127.07 174.03L127.14 174.93L127.20 175.83L127.27 176.73L127.33 177.64L127.39 178.54L127.46 179.44L127.52 180.34L127.58 181.25L127.65 182.15L127.71 183.05L127.77 183.95L127.83 184.85L127.89 185.76L127.95 186.66L128.01 187.56L128.07 188.46L128.13 189.37L128.19 190.27L128.25 191.17L128.31 192.07L128.37 192.97L128.43 193.88L128.49 194.78L128.54 195.68L128.60 196.58L128.66 197.48L128.71 198.39L128.77 199.29L128.83 200.19L128.88 201.09L128.94 201.99L128.99 202.90L129.05 203.80L129.10 204.70L129.16 205.60L129.21 206.50L129.26 207.41L129.32 208.31L129.37 209.21L129.42 210.11L129.48 211.01L129.53 211.91L129.58 212.82L129.63 213.72L129.69 214.62L129.74 215.52L129.79 216.42L129.84 217.33L129.89 218.23L129.94 219.13L129.99 220.03L130.04 220.93L130.09 221.84L130.14 222.74L130.19 223.64L130.24 224.54L130.29 225.44L130.34 226.34L130.39 227.25L130.44 228.15L130.49 229.05L130.54 229.95L130.58 230.85L130.63 231.76L130.68 232.66L130.73 233.56L130.77 234.46L130.82 235.36L130.87 236.26L130.92 237.17L130.96 238.07L131.01 238.97L131.06 239.87L131.10 240.77L131.15 241.67L131.20 242.58L131.24 243.48L131.29 244.38L131.33 245.28L131.38 246.18L131.43 247.09L131.47 247.99L131.52 248.89L131.56 249.79L131.61 250.69L131.65 251.59L131.70 252.50L131.74 253.40L131.79 254.30L131.83 255.20L131.88 256.10L131.92 257.01L131.97 257.91L132.01 258.81L132.06 259.71L132.10 260.61L132.14 261.52L132.19 262.42L132.23 263.32L132.28 264.22L132.32 265.12L132.37 266.03L132.41 266.93L132.45 267.83L132.50 268.73L132.54 269.63L132.59 270.54L132.63 271.44L132.67 272.34L132.72 273.24L132.76 274.14L132.81 275.05L132.85 275.95L132.90 276.85L132.94 277.75L132.98 278.65L133.03 279.56L133.07 280.46L133.12 281.36L133.16 282.26L133.20 283.16L133.25 284.07L133.29 284.97L133.34 285.87L133.38 286.77L133.43 287.68L133.47 288.58L133.51 289.48L133.56 290.38L133.60 291.28L133.65 292.19L133.69 293.09L133.74 293.99L133.78 294.89L133.83 295.80L133.87 296.70L133.92 297.60L133.96 298.50L134.01 299.41L134.05 300.31L134.10 301.21L134.14 302.11L134.19 303.02L134.24 303.92L134.28 304.82L134.33 305.72L134.37 306.63L134.42 307.53L134.47 308.43L134.51 309.34L134.56 310.24L134.61 311.14L134.65 312.04L134.70 312.95L134.75 313.85L134.80 314.75L134.84 315.66L134.89 316.56L134.94 317.46L134.99 318.36L135.03 319.27L135.08 320.17L135.13 321.07L135.18 321.98L135.23 322.88L135.28 323.78L135.33 324.69L135.38 325.59L135.43 326.49L135.48 327.40L135.53 328.30L135.58 329.20L135.63 330.11L135.68 331.01L135.73 331.91L135.78 332.82L135.83 333.72L135.88 334.62L135.93 335.53L135.99 336.43L136.04 337.33L136.09 338.24L136.15 339.14L136.20 340.04L136.25 340.95L136.31 341.85L136.37 342.75L136.42 343.66L136.48 344.56L136.54 345.46L136.60 346.37L136.66 347.27L136.72 348.17L136.79 349.08L136.85 349.98L136.92 350.88L136.99 351.78L137.06 352.69L137.13 353.59L137.20 354.49L137.28 355.39L137.35 356.29L137.43 357.19L137.52 358.09L137.60 359.00L137.68 359.90L137.77 360.80L137.86 361.70L137.96 362.59L138.05 363.49L138.15 364.39L138.25 365.29L138.36 366.19L138.46 367.09L138.57 367.99L138.69 368.88L138.80 369.78L138.92 370.68L139.04 371.57L139.17 372.47L139.30 373.36L139.43 374.26L139.57 375.15L139.71 376.05L139.85 376.94L140.00 377.83L140.15 378.72L140.31 379.62L140.47 380.51L140.63 381.40L140.80 382.29L140.97 383.18L141.15 384.07L141.33 384.96L141.51 385.84L141.71 386.73L141.90 387.62L142.10 388.51L142.30 389.39L142.51 390.28L142.73 391.16L142.95 392.04L143.18 392.92L143.44 393.78L143.72 394.63L144.03 395.46L144.38 396.27L144.78 397.04L145.23 397.79L145.74 398.49L146.31 399.14L146.96 399.75L147.69 400.31L148.50 400.81L149.41 401.24L150.41 401.61" stroke="#1ec81e" stroke-width="1.7"/>
<path d="M150.40 401.93L151.11 401.29L151.82 400.68L152.54 400.07L153.27 399.49L154.01 398.91L154.75 398.35L155.50 397.81L156.26 397.28L157.02 396.76L157.79 396.26L158.57 395.77L159.35 395.29L160.14 394.83L160.93 394.39L161.73 393.95L162.54 393.53L163.35 393.13L164.16 392.74L164.98 392.36L165.81 392.00L166.64 391.65L167.47 391.32L168.31 390.99L169.16 390.69L170.01 390.39L170.86 390.11L171.71 389.84L172.57 389.59L173.44 389.35L174.30 389.12L175.17 388.91L176.04 388.71L176.92 388.53L177.80 388.35L178.68 388.19L179.56 388.05L180.45 387.92L181.34 387.80L182.23 387.69L183.12 387.59L184.01 387.51L184.91 387.44L185.81 387.38L186.71 387.33L187.61 387.29L188.51 387.26L189.41 387.24L190.32 387.22L191.23 387.22L192.13 387.23L193.04 387.24L193.95 387.26L194.86 387.28L195.77 387.32L196.68 387.35L197.60 387.40L198.51 387.45L199.42 387.50L200.34 387.56L201.25 387.62L202.17 387.69L203.08 387.76L203.99 387.83L204.91 387.90L205.82 387.98L206.73 388.06L207.65 388.13L208.56 388.21L209.47 388.29L210.38 388.37L211.29 388.45L212.20 388.53L213.11 388.60L214.02 388.68L214.93 388.76L215.84 388.83L216.74 388.90L217.65 388.97L218.56 389.04L219.46 389.11L220.37 389.17L221.27 389.24L222.17 389.30L223.08 389.35L223.98 389.41L224.89 389.46L225.79 389.51L226.69 389.56L227.59 389.60L228.50 389.64L229.40 389.68L230.30 389.71L231.20 389.74L232.11 389.76L233.01 389.78L233.91 389.80L234.81 389.81L235.72 389.82L236.62 389.82L237.52 389.82L238.43 389.81L239.33 389.80L240.23 389.78L241.14 389.76L242.04 389.73L242.95 389.69L243.85 389.65L244.76 389.61L245.66 389.55L246.57 389.49L247.48 389.43L248.38 389.35L249.29 389.27L250.20 389.19L251.11 389.09L252.02 388.99L252.93 388.88L253.84 388.77L254.75 388.64L255.67 388.51L256.58 388.37L257.49 388.22" stroke="#1ec81e" stroke-width="1.7"/>
<path d="M305.50 384.48L306.41 384.43L307.31 384.38L308.21 384.32L309.11 384.27L310.01 384.22L310.92 384.17L311.82 384.11L312.72 384.06L313.62 384.00L314.53 383.94L315.43 383.89L316.34 383.83L317.24 383.77L318.14 383.72L319.05 383.66L319.95 383.60L320.86 383.54L321.76 383.48L322.67 383.42L323.57 383.37L324.47 383.31L325.38 383.25L326.28 383.19L327.19 383.13L328.09 383.07L329.00 383.01L329.90 382.95L330.81 382.89L331.71 382.83L332.62 382.77L333.52 382.71L334.43 382.65L335.33 382.59L336.23 382.53L337.14 382.47L338.04 382.41L338.95 382.36L339.85 382.30L340.75 382.24L341.66 382.18L342.56 382.12L343.46 382.07L344.36 382.01L345.27 381.95L346.17 381.90L347.07 381.84L347.97 381.79L348.87 381.73L349.77 381.68L350.67 381.63L351.57 381.58L352.47 381.52L353.37 381.47L354.27 381.42L355.17 381.37L356.07 381.32L356.97 381.27L357.86 381.23L358.76 381.18L359.66 381.13L360.56 381.07L361.46 381.02L362.36 380.96L363.26 380.91L364.16 380.85L365.07 380.78L365.97 380.72L366.88 380.64L367.79 380.57L368.70 380.49L369.62 380.40L370.53 380.31L371.45 380.22L372.37 380.12L373.29 380.03L374.21 379.94L375.13 379.85L376.05 379.78L376.97 379.72L377.89 379.67L378.80 379.64L379.71 379.63L380.62 379.64L381.52 379.68L382.41 379.75L383.30 379.85L384.18 379.98L385.05 380.14L385.91 380.35L386.75 380.59L387.59 380.86L388.42 381.17L389.24 381.51L390.05 381.88L390.84 382.27L391.63 382.70L392.41 383.14L393.18 383.61L393.94 384.10L394.70 384.60L395.46 385.12L396.21 385.63L396.96 386.15L397.72 386.66L398.48 387.16L399.24 387.66L400.01 388.16L400.78 388.65L401.55 389.13L402.32 389.61L403.10 390.07L403.88 390.54L404.67 390.99L405.45 391.44L406.25 391.88L407.04 392.31L407.84 392.73L408.64 393.15L409.45 393.55L410.26 393.95L411.07 394.33L411.89 394.71L412.71 395.08L413.54 395.43L414.37 395.78L415.20 396.11L416.04 396.43L416.88 396.75L417.73 397.05L418.58 397.33L419.44 397.61L420.30 397.87L421.16 398.12L422.03 398.36L422.90 398.58L423.78 398.79L424.67 398.99L425.55 399.18L426.44 399.35L427.34 399.52L428.24 399.67L429.14 399.81L430.04 399.94L430.95 400.06L431.85 400.18L432.76 400.28L433.68 400.38L434.59 400.47L435.50 400.56L436.42 400.64L437.34 400.71L438.25 400.78L439.17 400.83L440.08 400.88L441.00 400.91L441.91 400.93L442.82 400.93L443.73 400.90L444.64 400.85L445.54 400.78L446.43 400.68L447.32 400.55L448.21 400.38L449.08 400.19L449.95 399.96L450.81 399.69L451.65 399.39L452.48 399.06L453.30 398.69L454.11 398.30L454.89 397.87L455.67 397.42L456.42 396.94L457.16 396.43L457.87 395.90L458.57 395.34L459.26 394.77L459.92 394.17L460.57 393.55L461.20 392.91L461.82 392.25L462.42 391.57L463.00 390.88L463.57 390.17L464.13 389.44L464.67 388.71L465.20 387.96L465.72 387.20L466.22 386.42L466.72 385.64L467.20 384.85L467.67 384.05L468.13 383.25L468.58 382.44L469.02 381.62L469.45 380.80L469.87 379.98L470.28 379.15L470.69 378.33L471.09 377.51L471.48 376.68L471.86 375.85L472.24 375.03L472.61 374.20L472.97 373.37L473.33 372.54L473.68 371.71L474.02 370.87L474.36 370.04L474.69 369.20L475.02 368.37L475.34 367.53L475.66 366.69L475.97 365.85L476.28 365.00L476.58 364.16L476.88 363.31L477.17 362.47L477.46 361.62L477.75 360.77L478.03 359.91L478.31 359.06L478.58 358.20L478.86 357.34L479.13 356.48L479.39 355.62L479.66 354.76L479.92 353.90L480.18 353.03L480.43 352.17L480.69 351.30L480.94 350.44L481.19 349.57L481.44 348.70L481.68 347.83L481.93 346.96L482.17 346.08L482.41 345.21L482.65 344.34L482.89 343.46L483.13 342.59L483.37 341.72L483.61 340.84L483.84 339.97L484.08 339.09L484.31 338.21L484.55 337.34L484.79 336.46L485.02 335.58L485.26 334.71L485.50 333.83L485.73 332.96L485.97 332.08L486.21 331.20L486.45 330.33L486.69 329.45L486.94 328.58L487.18 327.70L487.43 326.83L487.67 325.96L487.92 325.09L488.17 324.21L488.43 323.34L488.68 322.47L488.94 321.60L489.20 320.73L489.46 319.87L489.73 319.00L490.00 318.13L490.27 317.27L490.54 316.41L490.82 315.54L491.10 314.68L491.39 313.83L491.68 312.97L491.97 312.11L492.27 311.26L492.57 310.40L492.88 309.55L493.19 308.70L493.50 307.85L493.82 307.01L494.14 306.16L494.47 305.32L494.80 304.48L495.13 303.64L495.47 302.80L495.81 301.96L496.15 301.12L496.50 300.29L496.85 299.45L497.20 298.62L497.55 297.78L497.90 296.95L498.26 296.12L498.62 295.29L498.98 294.46L499.33 293.63L499.70 292.80L500.06 291.97L500.42 291.14L500.78 290.31L501.14 289.48L501.50 288.65L501.86 287.81L502.23 286.98L502.58 286.15L502.94 285.32L503.30 284.49L503.66 283.66L504.01 282.82L504.36 281.99L504.72 281.15L505.06 280.32L505.41 279.48L505.75 278.64L506.09 277.80L506.43 276.96L506.77 276.12L507.10 275.28L507.42 274.44L507.75 273.59L508.07 272.74L508.38 271.89" stroke="#1ec81e" stroke-width="1.7"/>
<path d="M96.79 22.34L97.66 22.21L98.60 22.09L99.55 22.04L100.46 22.12L101.29 22.37L102.00 22.80L102.56 23.41L102.99 24.16L103.32 25.02L103.57 25.93L103.78 26.85L103.97 27.76L104.15 28.65L104.30 29.54L104.44 30.41L104.56 31.28L104.66 32.16L104.75 33.04L104.82 33.93L104.89 34.83L104.94 35.75L104.99 36.68L105.05 37.61L105.13 38.54L105.26 39.45L105.43 40.34L105.67 41.19L105.98 42.01L106.39 42.78L106.89 43.50L107.48 44.16L108.13 44.78L108.84 45.37L109.57 45.91L110.32 46.44L111.07 46.95L111.80 47.47L112.50 48.03L113.16 48.63L113.78 49.27L114.40 49.93L115.02 50.58L115.66 51.22L116.33 51.83L117.04 52.38L117.79 52.90L118.57 53.39L119.33 53.89L120.07 54.41L120.76 54.98L121.37 55.62L121.91 56.32L122.38 57.08L122.79 57.89L123.15 58.73L123.47 59.58L123.76 60.44L124.02 61.31L124.25 62.19L124.46 63.06L124.65 63.95L124.83 64.83L124.99 65.72L125.15 66.61L125.29 67.50L125.43 68.39L125.58 69.28L125.72 70.17L125.85 71.06L125.99 71.95L126.13 72.84L126.26 73.73L126.40 74.63L126.53 75.52L126.66 76.41L126.79 77.30L126.92 78.20L127.05 79.09L127.17 79.98L127.30 80.87L127.43 81.77L127.55 82.66L127.67 83.55L127.80 84.45L127.92 85.34L128.04 86.23L128.16 87.13L128.27 88.02L128.39 88.91L128.51 89.81L128.62 90.70L128.74 91.60L128.85 92.49L128.97 93.39L129.08 94.28L129.19 95.17L129.30 96.07L129.41 96.96L129.52 97.86L129.63 98.75L129.74 99.65L129.84 100.54L129.95 101.44L130.06 102.33L130.16 103.23L130.26 104.12L130.37 105.02L130.47 105.91L130.57 106.81L130.67 107.70L130.78 108.60L130.88 109.49L130.97 110.39L131.07 111.28L131.17 112.18L131.27 113.07L131.37 113.97L131.46 114.87L131.56 115.76L131.65 116.66L131.75 117.55L131.84 118.45L131.93 119.35L132.02 120.24L132.12 121.14L132.21 122.03L132.30 122.93L132.39 123.83L132.48 124.72L132.56 125.62L132.65 126.52L132.74 127.41L132.83 128.31L132.91 129.21L133.00 130.10L133.08 131.00L133.17 131.90L133.25 132.79L133.34 133.69L133.42 134.59L133.50 135.48L133.58 136.38L133.67 137.28L133.75 138.18L133.83 139.07L133.91 139.97L133.99 140.87L134.07 141.76L134.14 142.66L134.22 143.56L134.30 144.46L134.38 145.35L134.45 146.25L134.53 147.15L134.61 148.05L134.68 148.95L134.76 149.84L134.83 150.74L134.91 151.64L134.98 152.54L135.05 153.44L135.13 154.33L135.20 155.23L135.27 156.13L135.34 157.03L135.41 157.93L135.48 158.83L135.55 159.72L135.63 160.62L135.69 161.52L135.76 162.42L135.83 163.32L135.90 164.22L135.97 165.12L136.04 166.02L136.11 166.91L136.17 167.81L136.24 168.71L136.31 169.61L136.38 170.51L136.44 171.41L136.51 172.31L136.57 173.21L136.64 174.11L136.70 175.01L136.77 175.91L136.83 176.81L136.90 177.71L136.96 178.60L137.03 179.50L137.09 180.40L137.15 181.30L137.22 182.20L137.28 183.10L137.34 184.00L137.40 184.90L137.47 185.80L137.53 186.70L137.59 187.60L137.65 188.50L137.71 189.40L137.77 190.30L137.84 191.20L137.90 192.10L137.96 193.00L138.02 193.90L138.08 194.80L138.14 195.70L138.20 196.60L138.26 197.50L138.32 198.41L138.38 199.31L138.44 200.21L138.50 201.11L138.56 202.01L138.62 202.91L138.67 203.81L138.73 204.71L138.79 205.61L138.85 206.51L138.91 207.41L138.97 208.31L139.03 209.21L139.08 210.11L139.14 211.01L139.20 211.91L139.26 212.82L139.32 213.72L139.37 214.62L139.43 215.52L139.49 216.42L139.55 217.32L139.60 218.22L139.66 219.12L139.72 220.02L139.77 220.92L139.83 221.82L139.89 222.72L139.95 223.62L140.00 224.53L140.06 225.43L140.12 226.33L140.17 227.23L140.23 228.13L140.29 229.03L140.34 229.93L140.40 230.83L140.46 231.73L140.51 232.63L140.57 233.53L140.63 234.43L140.68 235.33L140.74 236.24L140.80 237.14L140.85 238.04L140.91 238.94L140.97 239.84L141.02 240.74L141.08 241.64L141.14 242.54L141.19 243.44L141.25 244.34L141.31 245.24L141.36 246.14L141.42 247.04L141.48 247.94L141.53 248.84L141.59 249.74L141.65 250.64L141.70 251.54L141.76 252.44L141.82 253.34L141.88 254.24L141.93 255.14L141.99 256.04L142.05 256.94L142.11 257.84L142.16 258.74L142.22 259.64L142.28 260.54L142.34 261.44L142.40 262.34L142.45 263.24L142.51 264.14L142.57 265.04L142.63 265.94L142.69 266.84L142.75 267.74L142.81 268.64L142.86 269.54L142.92 270.44L142.98 271.34L143.04 272.24L143.10 273.14L143.16 274.03L143.22 274.93L143.28 275.83L143.34 276.73L143.40 277.63L143.46 278.53L143.52 279.43L143.59 280.33L143.65 281.22L143.71 282.12L143.77 283.02L143.83 283.92L143.89 284.82L143.95 285.72L144.02 286.61L144.08 287.51L144.14 288.41L144.21 289.31L144.27 290.21L144.33 291.10L144.40 292.00L144.46 292.90L144.52 293.80L144.59 294.69L144.65 295.59L144.72 296.49L144.78 297.38L144.85 298.28L144.91 299.18L144.98 300.07L145.04 300.97L145.11 301.87L145.18 302.76L145.24 303.66L145.31 304.56L145.38 305.45L145.45 306.35L145.51 307.24L145.58 308.14L145.65 309.04L145.72 309.93L145.79 310.83L145.86 311.72L145.93 312.62L146.00 313.51L146.07 314.41L146.14 315.30L146.21 316.20L146.29 317.09L146.36 317.99L146.44 318.88L146.51 319.78L146.59 320.67L146.67 321.57L146.75 322.46L146.83 323.35L146.91 324.25L146.99 325.14L147.07 326.04L147.16 326.93L147.25 327.82L147.33 328.72L147.42 329.61L147.52 330.50L147.61 331.40L147.70 332.29L147.80 333.18L147.90 334.08L148.00 334.97L148.10 335.86L148.21 336.76L148.32 337.65L148.42 338.54L148.54 339.44L148.65 340.33L148.77 341.22L148.88 342.11L149.00 343.01L149.13 343.90L149.25 344.79L149.38 345.68L149.51 346.57L149.65 347.47L149.79 348.36L149.93 349.25L150.07 350.14L150.21 351.03L150.36 351.93L150.51 352.82L150.67 353.71L150.83 354.60L150.99 355.49L151.16 356.38L151.32 357.28L151.50 358.17L151.67 359.06L151.85 359.95L152.03 360.84L152.22 361.73L152.41 362.62L152.61 363.52L152.80 364.41L153.01 365.30L153.21 366.19L153.42 367.08L153.64 367.97L153.86 368.86L154.08 369.75L154.31 370.64L154.54 371.53L154.78 372.42L155.02 373.31L155.27 374.19L155.53 375.07L155.80 375.95L156.07 376.82L156.36 377.69L156.65 378.55L156.96 379.40L157.28 380.25L157.61 381.08L157.96 381.91L158.32 382.73L158.70 383.53L159.09 384.33L159.49 385.11L159.92 385.88L160.36 386.64L160.82 387.38L161.30 388.11L161.79 388.82L162.31 389.51L162.85 390.19L163.42 390.85L164.00 391.49L164.61 392.11L165.24 392.71L165.90 393.29L166.58 393.85L167.29 394.38L168.03 394.90L168.79 395.39L169.58 395.85L170.39 396.29L171.22 396.71L172.07 397.11L172.93 397.48L173.80 397.83L174.68 398.16L175.57 398.46L176.47 398.74L177.37 399.00L178.27 399.24L179.16 399.45L180.06 399.65L180.95 399.82L181.84 399.98L182.73 400.11L183.62 400.24L184.50 400.34L185.39 400.43L186.28 400.51L187.16 400.58L188.05 400.64L188.93 400.69L189.82 400.73L190.71 400.76L191.59 400.79L192.48 400.81L193.37 400.83L194.26 400.84L195.15 400.86L196.04 400.87L196.93 400.89L197.82 400.90L198.72 400.92L199.62 400.94L200.51 400.96L201.41 400.97L202.31 400.99L203.21 401.01L204.12 401.03L205.02 401.05L205.92 401.07L206.83 401.09L207.73 401.11L208.64 401.12L209.54 401.14L210.45 401.16L211.36 401.18L212.27 401.20L213.17 401.22L214.08 401.23L214.99 401.25L215.90 401.27L216.81 401.28L217.71 401.30L218.62 401.31L219.53 401.32L220.44 401.33L221.35 401.34L222.25 401.35L223.16 401.36L224.07 401.37L224.97 401.38L225.88 401.38L226.78 401.39L227.69 401.39L228.59 401.39L229.50 401.40L230.40 401.40L231.31 401.40L232.21 401.40L233.12 401.40L234.02 401.40L234.92 401.40L235.83 401.39L236.73 401.39L237.63 401.39L238.53 401.38L239.44 401.38L240.34 401.37L241.24 401.37L242.14 401.36L243.05 401.36L243.95 401.35L244.85 401.34L245.75 401.34L246.65 401.33L247.55 401.32L248.45 401.31L249.35 401.31L250.25 401.30L251.15 401.29L252.06 401.28L252.96 401.27L253.86 401.26L254.76 401.25L255.66 401.25L256.56 401.24L257.46 401.23L258.36 401.22L259.25 401.21L260.15 401.20L261.05 401.20L261.95 401.19L262.85 401.18L263.75 401.17L264.65 401.16L265.55 401.16L266.45 401.15L267.35 401.14L268.25 401.14L269.15 401.13L270.05 401.13L270.95 401.12L271.84 401.12L272.74 401.12L273.64 401.11L274.54 401.11L275.44 401.11L276.34 401.11L277.24 401.11L278.14 401.11L279.04 401.11L279.94 401.11L280.84 401.11L281.74 401.11L282.64 401.12L283.54 401.12L284.44 401.13L285.34 401.13L286.24 401.14L287.14 401.15L288.04 401.16L288.94 401.17L289.84 401.18L290.74 401.19L291.64 401.20L292.54 401.22L293.44 401.23L294.34 401.25L295.24 401.27L296.14 401.29L297.04 401.31L297.95 401.33L298.85 401.35L299.75 401.37L300.65 401.40L301.55 401.43L302.46 401.45L303.36 401.48L304.26 401.51L305.16 401.54L306.07 401.58L306.97 401.61L307.87 401.64L308.78 401.68L309.68 401.72L310.58 401.75L311.49 401.79L312.39 401.83L313.29 401.87L314.20 401.91L315.10 401.95L316.01 401.99L316.91 402.04L317.82 402.08L318.72 402.12L319.62 402.16L320.53 402.21L321.43 402.25L322.34 402.30L323.24 402.34L324.15 402.39L325.05 402.43L325.96 402.48L326.86 402.52L327.77 402.57L328.67 402.61L329.58 402.66L330.48 402.70L331.39 402.75L332.30 402.79L333.20 402.84L334.11 402.88L335.01 402.92L335.92 402.97L336.82 403.01L337.73 403.05L338.63 403.09L339.54 403.14L340.44 403.18L341.35 403.22L342.25 403.26L343.16 403.29L344.06 403.33L344.97 403.37L345.87 403.41L346.78 403.44L347.68 403.47L348.59 403.51L349.49 403.54L350.40 403.57L351.30 403.60L352.20 403.63L353.11 403.66L354.01 403.68L354.92 403.71L355.82 403.73L356.73 403.75L357.63 403.77L358.53 403.79L359.44 403.81L360.34 403.83L361.24 403.84L362.15 403.85L363.05 403.86L363.95 403.87L364.86 403.88L365.76 403.89L366.66 403.89L367.56 403.89L368.46 403.89L369.37 403.89L370.27 403.88L371.17 403.88L372.07 403.87L372.97 403.86L373.87 403.84L374.77 403.83L375.67 403.81L376.58 403.79L377.48 403.77L378.38 403.74L379.28 403.71L380.17 403.68L381.07 403.65L381.97 403.61L382.87 403.57L383.77 403.53L384.67 403.49L385.57 403.44L386.46 403.39L387.36 403.34L388.26 403.28L389.16 403.22L390.05 403.16L390.95 403.10L391.85 403.03L392.74 402.96L393.64 402.88L394.53 402.80L395.43 402.72L396.32 402.64L397.22 402.55L398.11 402.46L399.00 402.36L399.90 402.26L400.79 402.16L401.68 402.06L402.58 401.95L403.47 401.83L404.36 401.72L405.25 401.59L406.14 401.47L407.03 401.34L407.92 401.21L408.81 401.07L409.70 400.93L410.59 400.79L411.48 400.64L412.37 400.48L413.26 400.33L414.14 400.16L415.03 400.00L415.92 399.83L416.80 399.65L417.69 399.47L418.57 399.28L419.45 399.09L420.33 398.89L421.21 398.68L422.09 398.47L422.96 398.25L423.83 398.02L424.70 397.78L425.56 397.53L426.43 397.27L427.28 397.00L428.13 396.72L428.98 396.42L429.82 396.12L430.66 395.80L431.50 395.47L432.32 395.13L433.14 394.78L433.96 394.41L434.77 394.02L435.57 393.62L436.37 393.21L437.15 392.78L437.93 392.33L438.71 391.87L439.47 391.39L440.23 390.90L440.98 390.39L441.71 389.87L442.44 389.33L443.16 388.78L443.88 388.22L444.58 387.64L445.27 387.06L445.95 386.45L446.61 385.84L447.27 385.22L447.92 384.58L448.55 383.94L449.17 383.28L449.78 382.62L450.38 381.94L450.96 381.26L451.54 380.57L452.10 379.86L452.65 379.15L453.19 378.44L453.71 377.71L454.23 376.98L454.74 376.23L455.23 375.49L455.72 374.73L456.20 373.97L456.66 373.20L457.12 372.43L457.57 371.65L458.01 370.86L458.45 370.07L458.87 369.28L459.29 368.48L459.70 367.67L460.10 366.86L460.50 366.05L460.89 365.23L461.27 364.41L461.65 363.59L462.02 362.77L462.39 361.94L462.75 361.11L463.10 360.28L463.45 359.44L463.80 358.61L464.14 357.77L464.48 356.93L464.81 356.09L465.14 355.25L465.47 354.41L465.79 353.57L466.11 352.72L466.42 351.88L466.73 351.03L467.04 350.19L467.34 349.34L467.64 348.49L467.93 347.64L468.23 346.78L468.51 345.93L468.80 345.08L469.08 344.22L469.36 343.37L469.63 342.51L469.90 341.65L470.17 340.79L470.44 339.93L470.70 339.07L470.96 338.21L471.21 337.35L471.47 336.48L471.72 335.62L471.96 334.76L472.21 333.89L472.45 333.02L472.69 332.16L472.93 331.29L473.16 330.42L473.39 329.55L473.62 328.68L473.85 327.81L474.07 326.94L474.29 326.06L474.52 325.19L474.73 324.32L474.95 323.44L475.16 322.57L475.37 321.69L475.59 320.82L475.79 319.94L476.00 319.06L476.20 318.19L476.41 317.31L476.61 316.43L476.81 315.55L477.01 314.67L477.20 313.79L477.40 312.91L477.59 312.03L477.78 311.15L477.98 310.27L478.17 309.39L478.36 308.50L478.54 307.62L478.73 306.74L478.92 305.86L479.11 304.98L479.29 304.09L479.48 303.21L479.66 302.33L479.85 301.44L480.03 300.56L480.22 299.68L480.40 298.79L480.58 297.91L480.77 297.03L480.95 296.15L481.14 295.26L481.32 294.38L481.51 293.50L481.70 292.61L481.88 291.73L482.07 290.85L482.26 289.97L482.45 289.09L482.64 288.20L482.83 287.32L483.02 286.44L483.22 285.56L483.41 284.68L483.61 283.80L483.81 282.92L484.01 282.04L484.21 281.17L484.41 280.29L484.62 279.41L484.82 278.53L485.03 277.66L485.24 276.78L485.46 275.91L485.67 275.03L485.89 274.16L486.11 273.29L486.33 272.42L486.56 271.54L486.79 270.67L487.02 269.80L487.25 268.93L487.49 268.07L487.73 267.20L487.97 266.33L488.21 265.47L488.46 264.60L488.72 263.74L488.97 262.87L489.23 262.01L489.49 261.15L489.76 260.29L490.03 259.43L490.30 258.58L490.58 257.72L490.87 256.86L491.15 256.01L491.44 255.16L491.73 254.30L492.03 253.45L492.33 252.60L492.63 251.75L492.94 250.90L493.25 250.06L493.56 249.21L493.88 248.36L494.19 247.52L494.51 246.68L494.84 245.83L495.16 244.99L495.49 244.15L495.82 243.31L496.15 242.46L496.48 241.62L496.81 240.79L497.15 239.95L497.49 239.11L497.82 238.27L498.16 237.43L498.51 236.60L498.85 235.76L499.19 234.92L499.53 234.09L499.88 233.25L500.22 232.42L500.57 231.58L500.92 230.75L501.26 229.91L501.61 229.08L501.95 228.25L502.30 227.41L502.65 226.58L502.99 225.74L503.34 224.91L503.68 224.08L504.02 223.24L504.37 222.41L504.71 221.58L505.05 220.74L505.39 219.91L505.73 219.08L506.07 218.24L506.40 217.41L506.74 216.58L507.07 215.74L507.40 214.91L507.73 214.07L508.05 213.24L508.38 212.40" stroke="#000" stroke-width="1.6"/>
<path d="M96.80 15.23L97.64 15.21L98.56 15.16L99.52 15.11L100.47 15.13L101.39 15.27L102.22 15.53L102.92 15.96L103.48 16.55L103.91 17.28L104.22 18.13L104.44 19.04L104.60 19.98L104.73 20.92L104.83 21.83L104.92 22.73L105.00 23.62L105.08 24.51L105.15 25.40L105.23 26.29L105.31 27.18L105.39 28.08L105.48 28.98L105.56 29.89L105.66 30.80L105.79 31.70L105.99 32.57L106.29 33.40L106.68 34.19L107.16 34.93L107.69 35.65L108.27 36.33L108.88 37.00L109.51 37.66L110.15 38.30L110.80 38.95L111.44 39.60L112.07 40.25L112.67 40.93L113.26 41.61L113.83 42.30L114.42 42.98L115.02 43.63L115.65 44.26L116.30 44.86L116.97 45.46L117.65 46.04L118.34 46.63L119.03 47.23L119.71 47.84L120.38 48.47L121.03 49.12L121.66 49.80L122.26 50.49L122.83 51.21L123.36 51.95L123.85 52.71L124.29 53.50L124.67 54.30L125.02 55.12L125.32 55.96L125.58 56.82L125.82 57.68L126.04 58.56L126.24 59.44L126.42 60.32L126.60 61.21L126.78 62.09L126.96 62.98L127.13 63.87L127.30 64.76L127.47 65.64L127.63 66.53L127.80 67.42L127.96 68.31L128.12 69.20L128.27 70.09L128.43 70.98L128.58 71.87L128.73 72.76L128.87 73.65L129.02 74.54L129.16 75.43L129.30 76.32L129.44 77.21L129.58 78.10L129.71 78.99L129.85 79.88L129.98 80.78L130.11 81.67L130.23 82.56L130.36 83.45L130.48 84.35L130.61 85.24L130.73 86.13L130.85 87.03L130.96 87.92L131.08 88.81L131.19 89.71L131.31 90.60L131.42 91.50L131.53 92.39L131.64 93.29L131.74 94.18L131.85 95.08L131.96 95.97L132.06 96.87L132.16 97.76L132.26 98.66L132.36 99.55L132.46 100.45L132.56 101.35L132.66 102.24L132.75 103.14L132.85 104.03L132.94 104.93L133.04 105.83L133.13 106.72L133.22 107.62L133.31 108.52L133.40 109.41L133.49 110.31L133.58 111.21L133.67 112.10L133.76 113.00L133.84 113.90L133.93 114.79L134.02 115.69L134.10 116.59L134.19 117.48L134.27 118.38L134.36 119.28L134.44 120.17L134.53 121.07L134.61 121.97L134.69 122.87L134.78 123.76L134.86 124.66L134.94 125.56L135.02 126.45L135.10 127.35L135.19 128.25L135.27 129.15L135.35 130.04L135.43 130.94L135.51 131.84L135.59 132.74L135.66 133.63L135.74 134.53L135.82 135.43L135.90 136.33L135.98 137.22L136.06 138.12L136.13 139.02L136.21 139.92L136.29 140.81L136.37 141.71L136.44 142.61L136.52 143.51L136.60 144.41L136.67 145.30L136.75 146.20L136.82 147.10L136.90 148.00L136.97 148.89L137.05 149.79L137.12 150.69L137.20 151.59L137.27 152.49L137.35 153.38L137.42 154.28L137.50 155.18L137.57 156.08L137.65 156.98L137.72 157.87L137.80 158.77L137.87 159.67L137.95 160.57L138.02 161.47L138.09 162.36L138.17 163.26L138.24 164.16L138.32 165.06L138.39 165.96L138.46 166.85L138.54 167.75L138.61 168.65L138.69 169.55L138.76 170.45L138.83 171.35L138.91 172.24L138.98 173.14L139.06 174.04L139.13 174.94L139.21 175.84L139.28 176.74L139.36 177.63L139.43 178.53L139.51 179.43L139.58 180.33L139.66 181.23L139.73 182.12L139.81 183.02L139.88 183.92L139.96 184.82L140.03 185.72L140.11 186.62L140.19 187.51L140.26 188.41L140.34 189.31L140.42 190.21L140.49 191.11L140.57 192.01L140.65 192.90L140.73 193.80L140.80 194.70L140.88 195.60L140.96 196.50L141.04 197.40L141.12 198.29L141.20 199.19L141.28 200.09L141.36 200.99L141.44 201.89L141.52 202.79L141.60 203.68L141.68 204.58L141.76 205.48L141.85 206.38L141.93 207.28L142.01 208.18L142.10 209.07L142.18 209.97L142.26 210.87L142.35 211.77L142.43 212.67L142.52 213.57L142.60 214.46L142.69 215.36L142.77 216.26L142.86 217.16L142.95 218.06L143.04 218.96L143.12 219.85L143.21 220.75L143.30 221.65L143.39 222.55L143.48 223.45L143.57 224.34L143.66 225.24L143.75 226.14L143.84 227.04L143.94 227.94L144.03 228.83L144.12 229.73L144.21 230.63L144.31 231.53L144.40 232.43L144.49 233.32L144.59 234.22L144.68 235.12L144.78 236.02L144.88 236.91L144.97 237.81L145.07 238.71L145.17 239.61L145.26 240.50L145.36 241.40L145.46 242.30L145.56 243.19L145.66 244.09L145.76 244.99L145.86 245.89L145.96 246.78L146.06 247.68L146.16 248.58L146.26 249.47L146.36 250.37L146.47 251.27L146.57 252.16L146.67 253.06L146.78 253.95L146.88 254.85L146.99 255.75L147.09 256.64L147.20 257.54L147.31 258.43L147.41 259.33L147.52 260.23L147.63 261.12L147.73 262.02L147.84 262.91L147.95 263.81L148.06 264.70L148.17 265.60L148.28 266.49L148.39 267.39L148.50 268.28L148.62 269.18L148.73 270.07L148.84 270.97L148.95 271.86L149.07 272.76L149.18 273.65L149.29 274.54L149.41 275.44L149.52 276.33L149.64 277.23L149.76 278.12L149.87 279.01L149.99 279.91L150.11 280.80L150.23 281.69L150.34 282.58L150.46 283.48L150.58 284.37L150.70 285.26L150.82 286.16L150.94 287.05L151.06 287.94L151.19 288.83L151.31 289.72L151.43 290.62L151.55 291.51L151.68 292.40L151.80 293.29L151.93 294.18L152.05 295.07L152.18 295.96L152.30 296.85L152.43 297.74L152.56 298.63L152.68 299.52L152.81 300.41L152.94 301.30L153.07 302.19L153.20 303.08L153.33 303.97L153.46 304.86L153.59 305.75L153.72 306.64L153.85 307.53L153.98 308.42L154.11 309.31L154.25 310.19L154.38 311.08L154.52 311.97L154.65 312.86L154.78 313.75L154.92 314.63L155.06 315.52L155.19 316.41L155.33 317.29L155.47 318.18L155.61 319.07L155.75 319.95L155.89 320.84L156.03 321.72L156.17 322.61L156.32 323.50L156.47 324.38L156.62 325.27L156.77 326.15L156.92 327.04L157.07 327.92L157.23 328.80L157.39 329.69L157.55 330.57L157.71 331.46L157.88 332.34L158.05 333.22L158.22 334.11L158.40 334.99L158.58 335.87L158.76 336.76L158.95 337.64L159.13 338.52L159.33 339.40L159.52 340.28L159.72 341.17L159.93 342.05L160.13 342.93L160.35 343.81L160.56 344.69L160.78 345.57L161.01 346.45L161.24 347.33L161.48 348.21L161.72 349.09L161.96 349.97L162.21 350.85L162.47 351.73L162.73 352.61L163.00 353.49L163.27 354.36L163.55 355.24L163.84 356.11L164.13 356.98L164.43 357.85L164.74 358.71L165.06 359.57L165.38 360.42L165.71 361.28L166.05 362.12L166.40 362.96L166.76 363.80L167.13 364.63L167.51 365.46L167.90 366.28L168.30 367.09L168.70 367.90L169.12 368.70L169.55 369.49L169.99 370.27L170.45 371.05L170.91 371.81L171.39 372.57L171.88 373.32L172.38 374.06L172.89 374.79L173.42 375.51L173.96 376.21L174.51 376.91L175.08 377.60L175.66 378.27L176.26 378.94L176.87 379.59L177.49 380.23L178.12 380.86L178.77 381.47L179.43 382.08L180.10 382.67L180.78 383.26L181.47 383.83L182.17 384.38L182.89 384.93L183.61 385.46L184.34 385.99L185.08 386.50L185.84 387.00L186.59 387.48L187.36 387.96L188.14 388.42L188.92 388.87L189.71 389.31L190.51 389.74L191.31 390.15L192.12 390.56L192.93 390.95L193.75 391.33L194.58 391.69L195.41 392.05L196.25 392.39L197.08 392.72L197.93 393.03L198.77 393.34L199.62 393.63L200.48 393.92L201.33 394.19L202.20 394.45L203.06 394.70L203.93 394.95L204.80 395.18L205.67 395.40L206.54 395.62L207.42 395.83L208.30 396.03L209.18 396.22L210.07 396.40L210.95 396.58L211.84 396.75L212.73 396.91L213.62 397.06L214.51 397.21L215.41 397.36L216.30 397.50L217.20 397.63L218.09 397.76L218.99 397.89L219.89 398.01L220.79 398.12L221.69 398.24L222.59 398.35L223.48 398.46L224.38 398.56L225.28 398.66L226.18 398.76L227.08 398.86L227.98 398.96L228.88 399.05L229.77 399.14L230.67 399.23L231.57 399.32L232.47 399.40L233.36 399.48L234.26 399.56L235.16 399.64L236.06 399.72L236.95 399.79L237.85 399.86L238.75 399.93L239.65 400.00L240.54 400.07L241.44 400.13L242.34 400.19L243.23 400.25L244.13 400.31L245.03 400.37L245.93 400.42L246.82 400.47L247.72 400.52L248.62 400.57L249.51 400.62L250.41 400.67L251.31 400.71L252.21 400.76L253.11 400.80L254.00 400.84L254.90 400.87L255.80 400.91L256.70 400.95L257.60 400.98L258.50 401.01L259.39 401.04L260.29 401.07L261.19 401.10L262.09 401.13L262.99 401.15L263.89 401.18L264.79 401.20L265.69 401.22L266.59 401.24L267.49 401.26L268.40 401.28L269.30 401.29L270.20 401.31L271.10 401.33L272.00 401.34L272.91 401.35L273.81 401.36L274.71 401.37L275.62 401.38L276.52 401.39L277.42 401.40L278.33 401.41L279.23 401.41L280.14 401.42L281.04 401.42L281.95 401.43L282.86 401.43L283.76 401.43L284.67 401.44L285.57 401.44L286.48 401.44L287.39 401.44L288.29 401.44L289.20 401.44L290.11 401.44L291.01 401.44L291.92 401.43L292.83 401.43L293.73 401.43L294.64 401.43L295.55 401.43L296.45 401.42L297.36 401.42L298.27 401.42L299.17 401.42L300.08 401.41L300.98 401.41L301.89 401.41L302.80 401.41L303.70 401.40L304.61 401.40L305.51 401.40L306.41 401.40L307.32 401.40L308.22 401.40L309.13 401.39L310.03 401.39L310.93 401.40L311.83 401.40L312.73 401.40L313.64 401.40L314.54 401.40L315.44 401.40L316.34 401.41L317.24 401.41L318.13 401.42L319.03 401.42L319.93 401.43L320.83 401.44L321.72 401.45L322.62 401.46L323.51 401.47L324.41 401.48L325.30 401.49L326.19 401.50L327.09 401.52L327.98 401.53L328.87 401.55L329.76 401.57L330.65 401.59L331.53 401.61L332.42 401.63L333.31 401.65L334.19 401.67L335.08 401.70L335.96 401.72L336.85 401.75L337.73 401.78L338.62 401.80L339.50 401.83L340.38 401.86L341.26 401.89L342.15 401.92L343.03 401.95L343.91 401.98L344.79 402.01L345.67 402.03L346.55 402.06L347.43 402.09L348.31 402.12L349.19 402.15L350.07 402.18L350.96 402.21L351.84 402.24L352.72 402.26L353.60 402.29L354.48 402.31L355.36 402.34L356.25 402.36L357.13 402.39L358.01 402.41L358.90 402.43L359.78 402.45L360.67 402.47L361.55 402.49L362.44 402.50L363.32 402.52L364.21 402.53L365.10 402.54L365.99 402.55L366.88 402.56L367.77 402.57L368.66 402.57L369.55 402.57L370.45 402.57L371.34 402.57L372.24 402.57L373.14 402.56L374.03 402.55L374.93 402.54L375.84 402.53L376.74 402.51L377.64 402.49L378.55 402.47L379.45 402.45L380.36 402.42L381.27 402.39L382.18 402.36L383.09 402.32L384.01 402.28L384.92 402.24L385.84 402.20L386.76 402.15L387.68 402.10L388.60 402.04L389.52 401.98L390.45 401.92L391.38 401.85L392.31 401.78L393.24 401.71L394.18 401.63L395.11 401.55L396.05 401.46L396.99 401.37L397.93 401.27L398.87 401.17L399.82 401.07L400.76 400.95L401.70 400.83L402.64 400.71L403.57 400.57L404.51 400.43L405.44 400.28L406.37 400.12L407.30 399.95L408.22 399.78L409.14 399.59L410.05 399.40L410.96 399.19L411.86 398.97L412.76 398.74L413.65 398.50L414.53 398.25L415.41 397.99L416.28 397.71L417.14 397.43L417.99 397.13L418.84 396.82L419.68 396.50L420.51 396.16L421.34 395.82L422.16 395.46L422.97 395.10L423.78 394.72L424.57 394.33L425.36 393.93L426.15 393.52L426.92 393.10L427.69 392.67L428.46 392.23L429.21 391.78L429.96 391.32L430.71 390.86L431.44 390.38L432.17 389.89L432.89 389.39L433.61 388.88L434.32 388.37L435.02 387.84L435.72 387.30L436.40 386.76L437.09 386.21L437.76 385.65L438.43 385.08L439.09 384.50L439.75 383.92L440.40 383.32L441.04 382.72L441.68 382.11L442.31 381.49L442.93 380.87L443.55 380.23L444.16 379.59L444.77 378.95L445.37 378.29L445.96 377.63L446.54 376.96L447.12 376.28L447.70 375.60L448.26 374.91L448.82 374.22L449.38 373.52L449.93 372.81L450.47 372.09L451.00 371.37L451.53 370.65L452.06 369.92L452.57 369.18L453.09 368.44L453.59 367.69L454.09 366.93L454.59 366.17L455.07 365.41L455.56 364.64L456.03 363.87L456.50 363.09L456.97 362.31L457.42 361.52L457.88 360.73L458.32 359.93L458.76 359.13L459.20 358.33L459.63 357.52L460.05 356.71L460.47 355.89L460.88 355.07L461.29 354.25L461.69 353.43L462.09 352.60L462.48 351.77L462.86 350.93L463.24 350.09L463.61 349.25L463.98 348.41L464.34 347.57L464.70 346.72L465.05 345.87L465.39 345.02L465.74 344.16L466.07 343.31L466.40 342.45L466.72 341.59L467.04 340.73L467.36 339.87L467.67 339.00L467.97 338.14L468.27 337.27L468.56 336.41L468.85 335.54L469.13 334.67L469.41 333.80L469.68 332.93L469.95 332.06L470.21 331.19L470.47 330.32L470.72 329.45L470.97 328.58L471.21 327.71L471.45 326.84L471.69 325.96L471.92 325.09L472.15 324.22L472.37 323.34L472.59 322.47L472.81 321.59L473.02 320.72L473.23 319.84L473.44 318.97L473.65 318.09L473.85 317.21L474.04 316.34L474.24 315.46L474.43 314.58L474.62 313.71L474.81 312.83L474.99 311.95L475.17 311.07L475.35 310.19L475.53 309.32L475.71 308.44L475.88 307.56L476.06 306.68L476.23 305.80L476.40 304.92L476.57 304.04L476.73 303.16L476.90 302.28L477.07 301.40L477.23 300.52L477.39 299.64L477.56 298.76L477.72 297.88L477.88 297.00L478.04 296.12L478.20 295.24L478.36 294.37L478.53 293.49L478.69 292.61L478.85 291.73L479.01 290.85L479.17 289.97L479.33 289.09L479.50 288.21L479.66 287.33L479.83 286.45L479.99 285.57L480.16 284.70L480.33 283.82L480.50 282.94L480.67 282.06L480.84 281.18L481.02 280.31L481.19 279.43L481.37 278.55L481.55 277.68L481.73 276.80L481.92 275.93L482.11 275.05L482.29 274.18L482.49 273.30L482.68 272.43L482.88 271.55L483.08 270.68L483.28 269.81L483.49 268.93L483.70 268.06L483.91 267.19L484.13 266.32L484.35 265.45L484.57 264.58L484.80 263.71L485.03 262.84L485.26 261.97L485.50 261.10L485.75 260.23L485.99 259.36L486.24 258.50L486.49 257.63L486.75 256.77L487.01 255.90L487.27 255.03L487.54 254.17L487.80 253.31L488.07 252.44L488.35 251.58L488.62 250.72L488.90 249.85L489.18 248.99L489.47 248.13L489.75 247.27L490.04 246.41L490.33 245.55L490.62 244.69L490.92 243.83L491.21 242.97L491.51 242.11L491.81 241.25L492.11 240.39L492.41 239.53L492.71 238.68L493.02 237.82L493.32 236.96L493.63 236.11L493.94 235.25L494.25 234.39L494.55 233.54L494.86 232.68L495.18 231.83L495.49 230.97L495.80 230.12L496.11 229.26L496.42 228.41L496.73 227.56L497.05 226.70L497.36 225.85L497.67 225.00L497.98 224.14L498.30 223.29L498.61 222.44L498.92 221.59L499.23 220.73L499.54 219.88L499.85 219.03L500.16 218.18L500.46 217.33L500.77 216.48L501.08 215.63L501.38 214.78L501.68 213.93L501.98 213.08L502.28 212.23L502.58 211.38L502.88 210.53L503.17 209.68L503.47 208.83L503.76 207.98L504.05 207.13L504.34 206.28L504.62 205.43L504.90 204.58L505.18 203.73L505.46 202.88L505.74 202.04L506.01 201.19L506.28 200.34L506.55 199.49L506.81 198.64L507.07 197.79L507.33 196.94L507.59 196.10L507.84 195.25L508.09 194.40L508.33 193.55" stroke="#c4001c" stroke-width="1.45"/>
</g>
<rect x="69.4" y="2.7" width="439.2" height="399.1" fill="none" stroke="#000" stroke-width="2.1"/>
<path d="M75.27 401.80 v-4.5 M75.27 2.70 v4.5M87.30 401.80 v-8.0 M87.30 2.70 v8.0M99.33 401.80 v-4.5 M99.33 2.70 v4.5M111.37 401.80 v-4.5 M111.37 2.70 v4.5M123.41 401.80 v-4.5 M123.41 2.70 v4.5M135.44 401.80 v-4.5 M135.44 2.70 v4.5M147.47 401.80 v-8.0 M147.47 2.70 v8.0M159.51 401.80 v-4.5 M159.51 2.70 v4.5M171.55 401.80 v-4.5 M171.55 2.70 v4.5M183.58 401.80 v-4.5 M183.58 2.70 v4.5M195.62 401.80 v-4.5 M195.62 2.70 v4.5M207.65 401.80 v-8.0 M207.65 2.70 v8.0M219.69 401.80 v-4.5 M219.69 2.70 v4.5M231.72 401.80 v-4.5 M231.72 2.70 v4.5M243.75 401.80 v-4.5 M243.75 2.70 v4.5M255.79 401.80 v-4.5 M255.79 2.70 v4.5M267.82 401.80 v-8.0 M267.82 2.70 v8.0M279.86 401.80 v-4.5 M279.86 2.70 v4.5M291.89 401.80 v-4.5 M291.89 2.70 v4.5M303.93 401.80 v-4.5 M303.93 2.70 v4.5M315.96 401.80 v-4.5 M315.96 2.70 v4.5M328.00 401.80 v-8.0 M328.00 2.70 v8.0M340.04 401.80 v-4.5 M340.04 2.70 v4.5M352.07 401.80 v-4.5 M352.07 2.70 v4.5M364.11 401.80 v-4.5 M364.11 2.70 v4.5M376.14 401.80 v-4.5 M376.14 2.70 v4.5M388.18 401.80 v-8.0 M388.18 2.70 v8.0M400.21 401.80 v-4.5 M400.21 2.70 v4.5M412.25 401.80 v-4.5 M412.25 2.70 v4.5M424.28 401.80 v-4.5 M424.28 2.70 v4.5M436.31 401.80 v-4.5 M436.31 2.70 v4.5M448.35 401.80 v-8.0 M448.35 2.70 v8.0M460.38 401.80 v-4.5 M460.38 2.70 v4.5M472.42 401.80 v-4.5 M472.42 2.70 v4.5M484.46 401.80 v-4.5 M484.46 2.70 v4.5M496.49 401.80 v-4.5 M496.49 2.70 v4.5M69.40 379.05 h5.0 M508.60 379.05 h-5.0M69.40 355.50 h9.0 M508.60 355.50 h-9.0M69.40 331.95 h5.0 M508.60 331.95 h-5.0M69.40 308.40 h9.0 M508.60 308.40 h-9.0M69.40 284.85 h5.0 M508.60 284.85 h-5.0M69.40 261.30 h9.0 M508.60 261.30 h-9.0M69.40 237.75 h5.0 M508.60 237.75 h-5.0M69.40 214.20 h9.0 M508.60 214.20 h-9.0M69.40 190.65 h5.0 M508.60 190.65 h-5.0M69.40 167.10 h9.0 M508.60 167.10 h-9.0M69.40 143.55 h5.0 M508.60 143.55 h-5.0M69.40 120.00 h9.0 M508.60 120.00 h-9.0M69.40 96.45 h5.0 M508.60 96.45 h-5.0M69.40 72.90 h9.0 M508.60 72.90 h-9.0M69.40 49.35 h5.0 M508.60 49.35 h-5.0M69.40 25.80 h9.0 M508.60 25.80 h-9.0" stroke="#000" stroke-width="1.7" fill="none"/>
<g font-size="16" text-anchor="end">
<text x="63.1" y="361.4">0.1</text>
<text x="63.1" y="314.3">0.2</text>
<text x="63.1" y="267.2">0.3</text>
<text x="63.1" y="220.1">0.4</text>
<text x="63.1" y="173.0">0.5</text>
<text x="63.1" y="125.9">0.6</text>
<text x="63.1" y="78.8">0.7</text>
<text x="63.1" y="31.7">0.8</text>
<text x="63.1" y="408.5">0</text>
</g>
<g font-size="16" text-anchor="middle">
<text x="86.5" y="418.5">0</text>
<text x="147.5" y="418.5">5</text>
<text x="207.6" y="418.5">10</text>
<text x="267.8" y="418.5">15</text>
<text x="328.0" y="418.5">20</text>
<text x="388.2" y="418.5">25</text>
<text x="448.4" y="418.5">30</text>
<text x="508.5" y="418.5">35</text>
</g>
<text x="288.6" y="438.9" font-size="18" text-anchor="middle">Time (<tspan font-family="'Liberation Serif', serif">µ</tspan>s)</text>
<text transform="translate(31.2 202.4) rotate(-90)" font-size="18.2" text-anchor="middle">Reflection Coefficient</text>
<text x="10" y="415.4" font-size="21.5">a)</text>
<g font-size="16.5">
<text x="251" y="172"><tspan font-family="'Liberation Serif', serif">τ</tspan><tspan font-size="11.3" dy="3.5">D</tspan><tspan dy="-3.5">=1.5 <tspan font-family="'Liberation Serif', serif">µ</tspan>s</tspan></text>
<text x="264" y="202">2.5 <tspan font-family="'Liberation Serif', serif">µ</tspan>s</text>
<text x="257.5" y="297">3.25 <tspan font-family="'Liberation Serif', serif">µ</tspan>s</text>
<text x="259" y="389.5">4.5 <tspan font-family="'Liberation Serif', serif">µ</tspan>s</text>
<text x="183.5" y="341.3">7 <tspan font-family="'Liberation Serif', serif">µ</tspan>s</text>
<text x="204.5" y="362.5">21 <tspan font-family="'Liberation Serif', serif">µ</tspan>s</text>
</g>
<path d="M180.00 335.30 L162.82 346.45" stroke="#000" stroke-width="1.7" fill="none"/><path d="M151.50 353.80 L160.70 343.18 L164.95 349.72 Z" fill="#000"/>
<path d="M203.00 357.00 L185.58 368.13" stroke="#000" stroke-width="1.7" fill="none"/><path d="M174.20 375.40 L183.48 364.85 L187.68 371.42 Z" fill="#000"/>
<rect x="69.7" y="464.9" width="439.9" height="371.7" fill="none" stroke="#000" stroke-width="2.3"/>
<rect x="400.5" y="833" width="6.5" height="6" fill="#fff"/>
<path d="M397 847 L408.2 825.6 M401.4 847 L412.6 825.6" stroke="#000" stroke-width="1.3" fill="none"/>
<path d="M106.12 836.55 v-4.0 M106.12 464.85 v4.0M142.74 836.55 v-7.5 M142.74 464.85 v7.5M179.36 836.55 v-4.0 M179.36 464.85 v4.0M215.98 836.55 v-7.5 M215.98 464.85 v7.5M252.60 836.55 v-4.0 M252.60 464.85 v4.0M289.22 836.55 v-7.5 M289.22 464.85 v7.5M325.84 836.55 v-4.0 M325.84 464.85 v4.0M362.46 836.55 v-7.5 M362.46 464.85 v7.5M399.08 836.55 v-4.0 M399.08 464.85 v4.0M436.40 836.55 v-7.5 M436.40 464.85 v7.5M473.00 836.55 v-4.0 M473.00 464.85 v4.0M69.70 799.38 h4.5 M509.60 799.38 h-4.5M69.70 762.21 h7.5 M509.60 762.21 h-7.5M69.70 725.04 h4.5 M509.60 725.04 h-4.5M69.70 687.87 h7.5 M509.60 687.87 h-7.5M69.70 650.70 h4.5 M509.60 650.70 h-4.5M69.70 613.53 h7.5 M509.60 613.53 h-7.5M69.70 576.36 h4.5 M509.60 576.36 h-4.5M69.70 539.19 h7.5 M509.60 539.19 h-7.5M69.70 502.02 h4.5 M509.60 502.02 h-4.5" stroke="#000" stroke-width="1.7" fill="none"/>
<g font-size="18" text-anchor="end">
<text x="58.3" y="840.9">0</text>
<text x="58.3" y="766.6">50</text>
<text x="58.3" y="692.2">100</text>
<text x="58.3" y="617.9">150</text>
<text x="58.3" y="543.5">200</text>
<text x="58.3" y="469.2">250</text>
</g>
<g font-size="18" text-anchor="middle">
<text x="69.5" y="858">0</text>
<text x="142.7" y="858">2</text>
<text x="216.0" y="858">4</text>
<text x="289.2" y="858">6</text>
<text x="362.5" y="858">8</text>
<text x="436.4" y="858">20</text>
<text x="509.6" y="858">22</text>
</g>
<text x="279.3" y="881.5" font-size="17.8" text-anchor="middle">Match Delay (<tspan font-family="'Liberation Serif', serif">µ</tspan>s)</text>
<text transform="translate(14.2 646.7) rotate(-90)" font-size="18.1" text-anchor="middle">Power (W)</text>
<text x="10" y="852.5" font-size="21.5">b)</text>
<clipPath id="ca"><rect x="60" y="460" width="180" height="380"/></clipPath><clipPath id="cb"><rect x="240" y="460" width="86" height="380"/></clipPath><clipPath id="cc"><rect x="326" y="460" width="190" height="380"/></clipPath>
<path d="M124.50 648.75C126.25 647.92 131.17 646.25 135.00 643.75C138.83 641.25 143.33 638.33 147.50 633.75C151.67 629.17 156.25 622.71 160.00 616.25C163.75 609.79 166.67 603.04 170.00 595.00C173.33 586.96 176.88 576.00 180.00 568.00C183.12 560.00 185.28 553.97 188.75 547.00C192.22 540.03 197.01 532.37 200.80 526.20C204.59 520.03 207.92 514.50 211.50 510.00C215.08 505.50 218.48 502.12 222.30 499.20C226.12 496.28 229.92 494.07 234.40 492.50C238.88 490.93 243.13 490.47 249.20 489.80C255.27 489.13 262.72 488.85 270.80 488.50C278.88 488.15 288.50 487.93 297.70 487.70C306.90 487.47 308.95 487.27 326.00 487.10C343.05 486.93 375.46 486.78 400.00 486.70C424.54 486.62 461.04 486.62 473.25 486.60" stroke="#d60c16" stroke-width="3.10" fill="none" clip-path="url(#ca)"/>
<path d="M124.50 648.75C126.25 647.92 131.17 646.25 135.00 643.75C138.83 641.25 143.33 638.33 147.50 633.75C151.67 629.17 156.25 622.71 160.00 616.25C163.75 609.79 166.67 603.04 170.00 595.00C173.33 586.96 176.88 576.00 180.00 568.00C183.12 560.00 185.28 553.97 188.75 547.00C192.22 540.03 197.01 532.37 200.80 526.20C204.59 520.03 207.92 514.50 211.50 510.00C215.08 505.50 218.48 502.12 222.30 499.20C226.12 496.28 229.92 494.07 234.40 492.50C238.88 490.93 243.13 490.47 249.20 489.80C255.27 489.13 262.72 488.85 270.80 488.50C278.88 488.15 288.50 487.93 297.70 487.70C306.90 487.47 308.95 487.27 326.00 487.10C343.05 486.93 375.46 486.78 400.00 486.70C424.54 486.62 461.04 486.62 473.25 486.60" stroke="#d60c16" stroke-width="2.50" fill="none" clip-path="url(#cb)"/>
<path d="M124.50 648.75C126.25 647.92 131.17 646.25 135.00 643.75C138.83 641.25 143.33 638.33 147.50 633.75C151.67 629.17 156.25 622.71 160.00 616.25C163.75 609.79 166.67 603.04 170.00 595.00C173.33 586.96 176.88 576.00 180.00 568.00C183.12 560.00 185.28 553.97 188.75 547.00C192.22 540.03 197.01 532.37 200.80 526.20C204.59 520.03 207.92 514.50 211.50 510.00C215.08 505.50 218.48 502.12 222.30 499.20C226.12 496.28 229.92 494.07 234.40 492.50C238.88 490.93 243.13 490.47 249.20 489.80C255.27 489.13 262.72 488.85 270.80 488.50C278.88 488.15 288.50 487.93 297.70 487.70C306.90 487.47 308.95 487.27 326.00 487.10C343.05 486.93 375.46 486.78 400.00 486.70C424.54 486.62 461.04 486.62 473.25 486.60" stroke="#d60c16" stroke-width="2.10" fill="none" clip-path="url(#cc)"/>
<path d="M124.50 675.50C126.25 674.75 131.58 672.83 135.00 671.00C138.42 669.17 142.17 666.92 145.00 664.50C147.83 662.08 149.83 659.08 152.00 656.50C154.17 653.92 156.00 651.75 158.00 649.00C160.00 646.25 162.17 643.17 164.00 640.00C165.83 636.83 166.83 634.92 169.00 630.00C171.17 625.08 174.42 617.17 177.00 610.50C179.58 603.83 182.33 595.29 184.50 590.00C186.67 584.71 187.75 583.75 190.00 578.75C192.25 573.75 195.30 566.08 198.00 560.00C200.70 553.92 203.05 548.38 206.20 542.30C209.35 536.22 213.32 528.67 216.90 523.50C220.48 518.33 224.78 514.00 227.70 511.30C230.62 508.60 231.72 508.63 234.40 507.30C237.08 505.97 239.53 504.73 243.80 503.30C248.07 501.87 254.15 500.18 260.00 498.70C265.85 497.22 272.62 495.75 278.90 494.40C285.18 493.05 291.87 491.58 297.70 490.60C303.53 489.62 309.18 489.08 313.90 488.50C318.62 487.92 323.98 487.33 326.00 487.10" stroke="#d60c16" stroke-width="3.10" fill="none" clip-path="url(#ca)"/>
<path d="M124.50 675.50C126.25 674.75 131.58 672.83 135.00 671.00C138.42 669.17 142.17 666.92 145.00 664.50C147.83 662.08 149.83 659.08 152.00 656.50C154.17 653.92 156.00 651.75 158.00 649.00C160.00 646.25 162.17 643.17 164.00 640.00C165.83 636.83 166.83 634.92 169.00 630.00C171.17 625.08 174.42 617.17 177.00 610.50C179.58 603.83 182.33 595.29 184.50 590.00C186.67 584.71 187.75 583.75 190.00 578.75C192.25 573.75 195.30 566.08 198.00 560.00C200.70 553.92 203.05 548.38 206.20 542.30C209.35 536.22 213.32 528.67 216.90 523.50C220.48 518.33 224.78 514.00 227.70 511.30C230.62 508.60 231.72 508.63 234.40 507.30C237.08 505.97 239.53 504.73 243.80 503.30C248.07 501.87 254.15 500.18 260.00 498.70C265.85 497.22 272.62 495.75 278.90 494.40C285.18 493.05 291.87 491.58 297.70 490.60C303.53 489.62 309.18 489.08 313.90 488.50C318.62 487.92 323.98 487.33 326.00 487.10" stroke="#d60c16" stroke-width="2.50" fill="none" clip-path="url(#cb)"/>
<path d="M124.50 675.50C126.25 674.75 131.58 672.83 135.00 671.00C138.42 669.17 142.17 666.92 145.00 664.50C147.83 662.08 149.83 659.08 152.00 656.50C154.17 653.92 156.00 651.75 158.00 649.00C160.00 646.25 162.17 643.17 164.00 640.00C165.83 636.83 166.83 634.92 169.00 630.00C171.17 625.08 174.42 617.17 177.00 610.50C179.58 603.83 182.33 595.29 184.50 590.00C186.67 584.71 187.75 583.75 190.00 578.75C192.25 573.75 195.30 566.08 198.00 560.00C200.70 553.92 203.05 548.38 206.20 542.30C209.35 536.22 213.32 528.67 216.90 523.50C220.48 518.33 224.78 514.00 227.70 511.30C230.62 508.60 231.72 508.63 234.40 507.30C237.08 505.97 239.53 504.73 243.80 503.30C248.07 501.87 254.15 500.18 260.00 498.70C265.85 497.22 272.62 495.75 278.90 494.40C285.18 493.05 291.87 491.58 297.70 490.60C303.53 489.62 309.18 489.08 313.90 488.50C318.62 487.92 323.98 487.33 326.00 487.10" stroke="#d60c16" stroke-width="2.10" fill="none" clip-path="url(#cc)"/>
<rect x="120.00" y="644.25" width="9" height="9" fill="#d60c16"/>
<rect x="156.75" y="613.50" width="9" height="9" fill="#d60c16"/>
<rect x="184.25" y="541.75" width="9" height="9" fill="#d60c16"/>
<rect x="230.50" y="486.75" width="9" height="9" fill="#d60c16"/>
<rect x="321.75" y="482.50" width="9" height="9" fill="#d60c16"/>
<rect x="468.75" y="482.25" width="9" height="9" fill="#d60c16"/>
<circle cx="124.50" cy="675.50" r="4.6" fill="#d60c16"/>
<circle cx="161.25" cy="653.00" r="4.6" fill="#d60c16"/>
<circle cx="188.75" cy="579.00" r="4.6" fill="#d60c16"/>
<circle cx="235.00" cy="504.50" r="4.6" fill="#d60c16"/>
<path d="M124.50 724.50C126.67 724.92 133.25 725.88 137.50 727.00C141.75 728.12 146.04 729.50 150.00 731.25C153.96 733.00 157.92 735.21 161.25 737.50C164.58 739.79 166.88 741.67 170.00 745.00C173.12 748.33 176.88 753.54 180.00 757.50C183.12 761.46 185.42 765.00 188.75 768.75C192.08 772.50 196.04 776.67 200.00 780.00C203.96 783.33 208.33 786.46 212.50 788.75C216.67 791.04 221.25 792.50 225.00 793.75C228.75 795.00 230.00 795.42 235.00 796.25C240.00 797.08 247.50 798.00 255.00 798.75C262.50 799.50 273.33 800.12 280.00 800.75C286.67 801.38 287.29 801.92 295.00 802.50C302.71 803.08 308.75 803.83 326.25 804.25C343.75 804.67 375.51 804.77 400.00 805.00C424.49 805.23 461.00 805.50 473.20 805.60" stroke="#000" stroke-width="2.90" fill="none" clip-path="url(#ca)"/>
<path d="M124.50 724.50C126.67 724.92 133.25 725.88 137.50 727.00C141.75 728.12 146.04 729.50 150.00 731.25C153.96 733.00 157.92 735.21 161.25 737.50C164.58 739.79 166.88 741.67 170.00 745.00C173.12 748.33 176.88 753.54 180.00 757.50C183.12 761.46 185.42 765.00 188.75 768.75C192.08 772.50 196.04 776.67 200.00 780.00C203.96 783.33 208.33 786.46 212.50 788.75C216.67 791.04 221.25 792.50 225.00 793.75C228.75 795.00 230.00 795.42 235.00 796.25C240.00 797.08 247.50 798.00 255.00 798.75C262.50 799.50 273.33 800.12 280.00 800.75C286.67 801.38 287.29 801.92 295.00 802.50C302.71 803.08 308.75 803.83 326.25 804.25C343.75 804.67 375.51 804.77 400.00 805.00C424.49 805.23 461.00 805.50 473.20 805.60" stroke="#000" stroke-width="2.20" fill="none" clip-path="url(#cb)"/>
<path d="M124.50 724.50C126.67 724.92 133.25 725.88 137.50 727.00C141.75 728.12 146.04 729.50 150.00 731.25C153.96 733.00 157.92 735.21 161.25 737.50C164.58 739.79 166.88 741.67 170.00 745.00C173.12 748.33 176.88 753.54 180.00 757.50C183.12 761.46 185.42 765.00 188.75 768.75C192.08 772.50 196.04 776.67 200.00 780.00C203.96 783.33 208.33 786.46 212.50 788.75C216.67 791.04 221.25 792.50 225.00 793.75C228.75 795.00 230.00 795.42 235.00 796.25C240.00 797.08 247.50 798.00 255.00 798.75C262.50 799.50 273.33 800.12 280.00 800.75C286.67 801.38 287.29 801.92 295.00 802.50C302.71 803.08 308.75 803.83 326.25 804.25C343.75 804.67 375.51 804.77 400.00 805.00C424.49 805.23 461.00 805.50 473.20 805.60" stroke="#000" stroke-width="1.90" fill="none" clip-path="url(#cc)"/>
<path d="M124.30 822.50C130.50 822.50 150.72 822.78 161.50 822.50C172.28 822.22 176.80 821.65 189.00 820.80C201.20 819.95 221.20 817.95 234.70 817.40C248.20 816.85 254.78 817.40 270.00 817.50C285.22 817.60 292.17 817.72 326.00 818.00C359.83 818.28 448.50 819.00 473.00 819.20" stroke="#000" stroke-width="2.10" fill="none" clip-path="url(#ca)"/>
<path d="M124.30 822.50C130.50 822.50 150.72 822.78 161.50 822.50C172.28 822.22 176.80 821.65 189.00 820.80C201.20 819.95 221.20 817.95 234.70 817.40C248.20 816.85 254.78 817.40 270.00 817.50C285.22 817.60 292.17 817.72 326.00 818.00C359.83 818.28 448.50 819.00 473.00 819.20" stroke="#000" stroke-width="2.00" fill="none" clip-path="url(#cb)"/>
<path d="M124.30 822.50C130.50 822.50 150.72 822.78 161.50 822.50C172.28 822.22 176.80 821.65 189.00 820.80C201.20 819.95 221.20 817.95 234.70 817.40C248.20 816.85 254.78 817.40 270.00 817.50C285.22 817.60 292.17 817.72 326.00 818.00C359.83 818.28 448.50 819.00 473.00 819.20" stroke="#000" stroke-width="1.90" fill="none" clip-path="url(#cc)"/>
<rect x="120.00" y="720.00" width="9" height="9" fill="#000"/>
<rect x="156.75" y="731.00" width="9" height="9" fill="#000"/>
<rect x="184.25" y="764.25" width="9" height="9" fill="#000"/>
<rect x="230.50" y="791.25" width="9" height="9" fill="#000"/>
<rect x="321.75" y="799.75" width="9" height="9" fill="#000"/>
<rect x="468.70" y="801.10" width="9" height="9" fill="#000"/>
<circle cx="124.30" cy="822.50" r="4.45" fill="#000"/>
<circle cx="161.50" cy="822.50" r="4.45" fill="#000"/>
<circle cx="189.00" cy="820.80" r="4.45" fill="#000"/>
<circle cx="234.70" cy="817.40" r="4.45" fill="#000"/>
<circle cx="326.25" cy="818.00" r="4.45" fill="#000"/>
<circle cx="473.20" cy="819.20" r="4.45" fill="#000"/>
<g font-size="19.6">
<text x="115.3" y="548.8" textLength="37.5" lengthAdjust="spacingAndGlyphs">Max</text>
<text x="212.5" y="618.8" textLength="50" lengthAdjust="spacingAndGlyphs">23 <tspan font-family="'Liberation Serif', serif">µ</tspan>s</text>
<text x="302.6" y="533.5" textLength="164" lengthAdjust="spacingAndGlyphs">Inductive Coupling</text>
<text x="204" y="732.6" textLength="37.5" lengthAdjust="spacingAndGlyphs">Max</text>
<text x="293.6" y="775.1" textLength="178" lengthAdjust="spacingAndGlyphs">Capacitive Coupling</text>
<text x="80.7" y="799.1" textLength="48.5" lengthAdjust="spacingAndGlyphs">23 <tspan font-family="'Liberation Serif', serif">µ</tspan>s</text>
</g>
<path d="M154.50 543.50 L169.82 557.53" stroke="#000" stroke-width="1.6" fill="none"/><path d="M178.30 565.30 L167.52 560.04 L172.12 555.03 Z" fill="#000"/>
<path d="M208.75 611.25 L194.90 598.94" stroke="#000" stroke-width="1.6" fill="none"/><path d="M186.30 591.30 L197.15 596.40 L192.64 601.48 Z" fill="#000"/>
<path d="M200.00 727.50 L185.08 740.46" stroke="#000" stroke-width="1.6" fill="none"/><path d="M176.40 748.00 L182.85 737.89 L187.31 743.03 Z" fill="#000"/>
<path d="M132.80 797.50 L145.01 810.13" stroke="#000" stroke-width="1.6" fill="none"/><path d="M153.00 818.40 L142.56 812.49 L147.45 807.77 Z" fill="#000"/>
</g></g></svg></body></html>
